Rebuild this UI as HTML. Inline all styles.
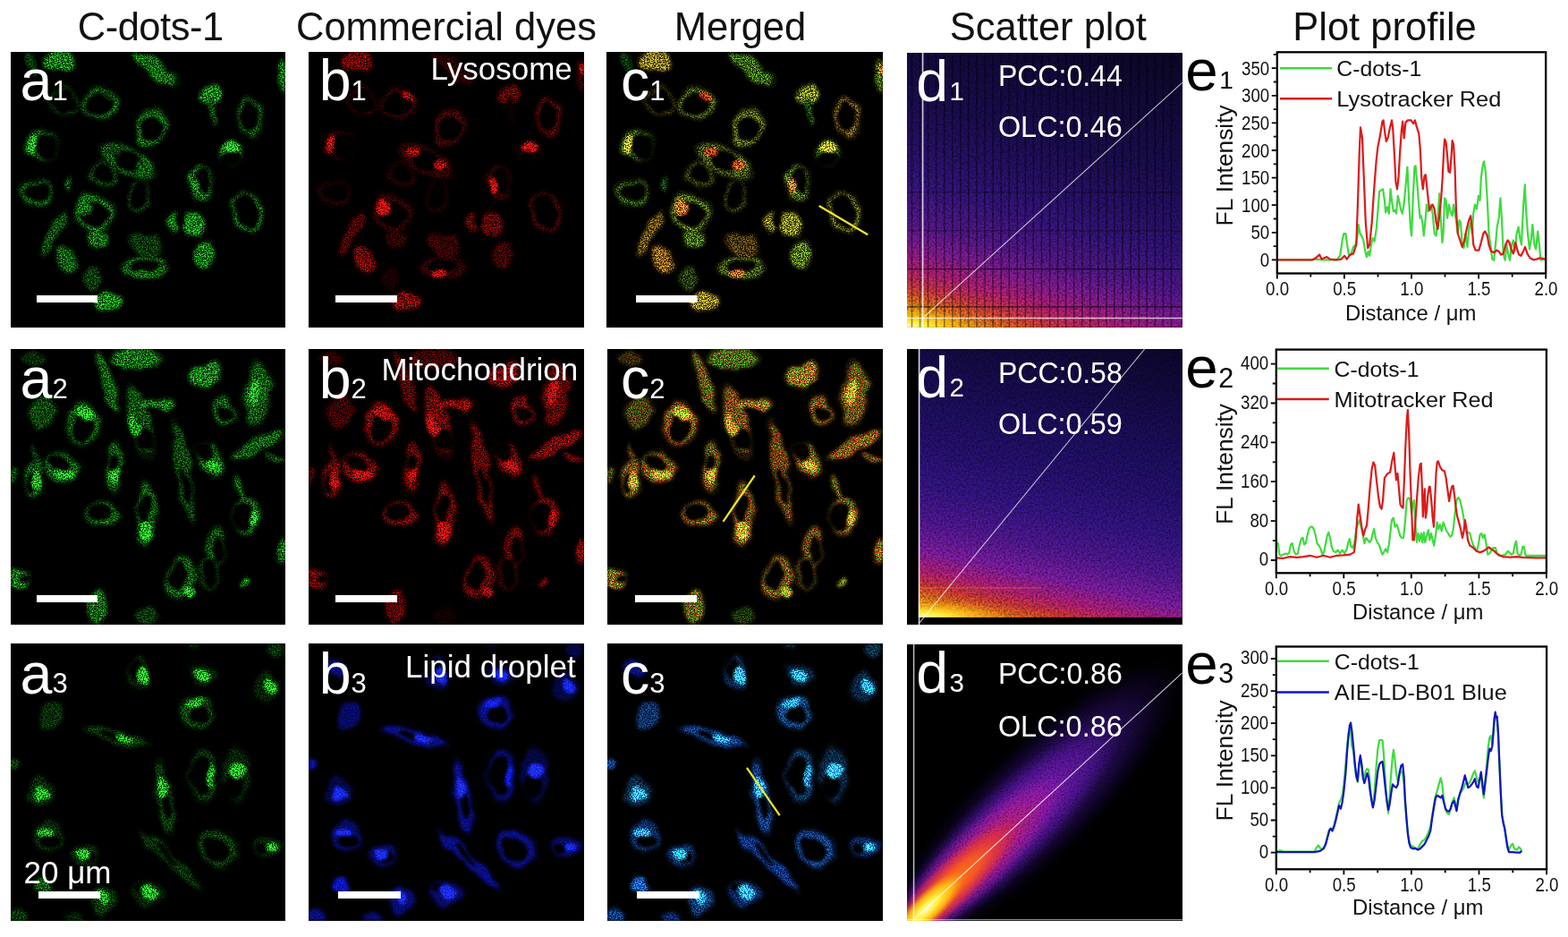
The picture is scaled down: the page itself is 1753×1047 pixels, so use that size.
<!DOCTYPE html>
<html lang="en"><head><meta charset="utf-8"><title>Colocalization figure</title>
<style>
html,body{margin:0;padding:0;background:#fff}
body{width:1753px;height:1047px;position:relative;overflow:hidden;font-family:"Liberation Sans",sans-serif;color:#000}
.hdr{position:absolute;top:0.8px;height:58px;line-height:58px;font-size:43.5px;white-space:nowrap;transform:translateX(-50%);color:#111}
.panel{position:absolute;background:#000;overflow:hidden}
.panel svg{position:absolute;left:0;top:0;width:100%;height:100%;display:block}
.lab{position:absolute;color:#fff;font-size:64.5px;line-height:1;white-space:nowrap}
.lab sub{font-size:31px;vertical-align:baseline;position:relative;top:-0.7px;margin-left:0px}
.tag{position:absolute;color:#fff;font-size:35px;line-height:1;white-space:nowrap;right:0;text-align:right}
.bar{position:absolute;background:#fff;height:8px;width:68px}
</style></head><body>
<div class="hdr" style="left:168.2px;font-size:43.5px;letter-spacing:-0.5px">C-dots-1</div>
<div class="hdr" style="left:499px;font-size:43.5px;letter-spacing:0px">Commercial dyes</div>
<div class="hdr" style="left:827.5px;font-size:43.5px;letter-spacing:0px">Merged</div>
<div class="hdr" style="left:1171.8px;font-size:43.5px;letter-spacing:0px">Scatter plot</div>
<div class="hdr" style="left:1548px;font-size:43.5px;letter-spacing:0px">Plot profile</div>
<div class="panel" style="left:12px;top:57.8px;width:307.3px;height:307.8px"><svg viewBox="0 0 1047 1047" preserveAspectRatio="none"><defs><filter id="fa1" x="0" y="0" width="1047" height="1047" filterUnits="userSpaceOnUse" color-interpolation-filters="sRGB"><feTurbulence type="fractalNoise" baseFrequency="0.013" numOctaves="2" seed="48" result="d"/><feDisplacementMap in="SourceGraphic" in2="d" scale="46" xChannelSelector="R" yChannelSelector="G" result="w"/><feGaussianBlur in="w" stdDeviation="5" result="b"/><feTurbulence type="fractalNoise" baseFrequency="0.21" numOctaves="2" seed="8" result="t"/><feColorMatrix in="t" type="matrix" values="3.6 0 0 0 -1.5  3.6 0 0 0 -1.5  3.6 0 0 0 -1.5  0 0 0 0 1" result="n"/><feComposite in="b" in2="n" operator="arithmetic" k1="2.0" k2="0.3" k3="0" k4="0"/></filter></defs><g id="La1" filter="url(#fa1)"><rect width="1047" height="1047" fill="#000"/><ellipse cx="190" cy="35" rx="65.6" ry="46.6" fill="#051e05"/><ellipse cx="75" cy="40" rx="20.8" ry="60" transform="rotate(-20 75 40)" fill="#020d02"/><ellipse cx="545" cy="60" rx="110.4" ry="37.6" transform="rotate(35 545 60)" fill="#041a04"/><ellipse cx="770" cy="165" rx="48.8" ry="43.2" fill="#062106"/><ellipse cx="770" cy="215" rx="20.8" ry="57.8" fill="#031303"/><ellipse cx="1030" cy="95" rx="20.8" ry="65.6" fill="#041a04"/><ellipse cx="205" cy="190" rx="65.6" ry="60" fill="#020d02"/><ellipse cx="340" cy="200" rx="80.2" ry="69" transform="rotate(-10 340 200)" fill="#041604"/><ellipse cx="540" cy="285" rx="60" ry="76.8" transform="rotate(15 540 285)" fill="#041804"/><ellipse cx="905" cy="250" rx="54.4" ry="80.2" transform="rotate(-5 905 250)" fill="#031403"/><ellipse cx="115" cy="355" rx="71.2" ry="65.6" fill="#041a04"/><ellipse cx="840" cy="385" rx="60" ry="57.8" fill="#041604"/><ellipse cx="445" cy="410" rx="127.2" ry="60" transform="rotate(25 445 410)" fill="#031403"/><ellipse cx="355" cy="470" rx="62.2" ry="54.4" transform="rotate(20 355 470)" fill="#031103"/><ellipse cx="725" cy="495" rx="54.4" ry="73.4" transform="rotate(-10 725 495)" fill="#041804"/><ellipse cx="95" cy="535" rx="73.4" ry="60" fill="#031403"/><ellipse cx="487" cy="545" rx="43.2" ry="69" fill="#031103"/><ellipse cx="222" cy="500" rx="13" ry="37.6" fill="#041604"/><ellipse cx="900" cy="610" rx="60" ry="88" transform="rotate(-15 900 610)" fill="#041804"/><ellipse cx="322" cy="612" rx="84.6" ry="80.2" fill="#041a04"/><ellipse cx="622" cy="650" rx="37.6" ry="43.2" fill="#051c05"/><ellipse cx="700" cy="655" rx="43.2" ry="54.4" fill="#051e05"/><ellipse cx="165" cy="685" rx="32" ry="104.8" transform="rotate(25 165 685)" fill="#031303"/><ellipse cx="330" cy="715" rx="46.6" ry="43.2" fill="#041a04"/><ellipse cx="515" cy="735" rx="76.8" ry="48.8" transform="rotate(30 515 735)" fill="#020d02"/><ellipse cx="737" cy="770" rx="46.6" ry="54.4" fill="#051e05"/><ellipse cx="212" cy="795" rx="48.8" ry="54.4" transform="rotate(-30 212 795)" fill="#041604"/><ellipse cx="510" cy="822" rx="91.4" ry="51" fill="#041604"/><ellipse cx="310" cy="860" rx="43.2" ry="48.8" fill="#020f02"/><ellipse cx="372" cy="950" rx="54.4" ry="43.2" fill="#062106"/><ellipse cx="190" cy="35" rx="55" ry="38" fill="#147714"/><ellipse cx="75" cy="40" rx="15" ry="50" transform="rotate(-20 75 40)" fill="#093409"/><ellipse cx="545" cy="60" rx="95" ry="30" transform="rotate(35 545 60)" fill="#116811"/><ellipse cx="770" cy="165" rx="40" ry="35" fill="#168516"/><ellipse cx="770" cy="215" rx="15" ry="48" fill="#0c4a0c"/><ellipse cx="1030" cy="95" rx="15" ry="55" fill="#116811"/><ellipse cx="205" cy="190" rx="55" ry="50" fill="#093409"/><ellipse cx="205" cy="190" rx="48" ry="43" fill="#000"/><ellipse cx="340" cy="200" rx="68" ry="58" transform="rotate(-10 340 200)" fill="#0f590f"/><ellipse cx="335" cy="200" rx="50.5" ry="43" transform="rotate(-10 335 200)" fill="#000"/><ellipse cx="372" cy="172" rx="22" ry="16" transform="rotate(40 372 172)" fill="#093509"/><ellipse cx="540" cy="285" rx="50" ry="65" transform="rotate(15 540 285)" fill="#106010"/><ellipse cx="540" cy="290" rx="34.2" ry="40.5" transform="rotate(15 540 290)" fill="#000"/><ellipse cx="905" cy="250" rx="45" ry="68" transform="rotate(-5 905 250)" fill="#0e520e"/><ellipse cx="905" cy="250" rx="34.2" ry="55.5" transform="rotate(-5 905 250)" fill="#000"/><ellipse cx="115" cy="355" rx="60" ry="55" fill="#116811"/><ellipse cx="135" cy="360" rx="43" ry="46.8" fill="#000"/><ellipse cx="92" cy="352" rx="18" ry="35" transform="rotate(10 92 352)" fill="#28ef28"/><ellipse cx="840" cy="385" rx="50" ry="48" fill="#0f590f"/><ellipse cx="838" cy="405" rx="46.8" ry="34.2" fill="#000"/><ellipse cx="842" cy="360" rx="38" ry="20" fill="#2cff2c"/><ellipse cx="445" cy="410" rx="110" ry="50" transform="rotate(25 445 410)" fill="#0e520e"/><ellipse cx="445" cy="410" rx="59.2" ry="38" transform="rotate(25 445 410)" fill="#000"/><ellipse cx="495" cy="432" rx="25" ry="20" fill="#0d500d"/><ellipse cx="395" cy="380" rx="22" ry="18" fill="#093509"/><ellipse cx="355" cy="470" rx="52" ry="45" transform="rotate(20 355 470)" fill="#0b430b"/><ellipse cx="352" cy="468" rx="40.5" ry="34.2" transform="rotate(20 352 468)" fill="#000"/><ellipse cx="725" cy="495" rx="45" ry="62" transform="rotate(-10 725 495)" fill="#106010"/><ellipse cx="735" cy="492" rx="30.5" ry="46.8" transform="rotate(-10 735 492)" fill="#000"/><ellipse cx="705" cy="512" rx="16" ry="28" fill="#168516"/><ellipse cx="95" cy="535" rx="62" ry="50" fill="#0e520e"/><ellipse cx="100" cy="530" rx="46.8" ry="34.2" fill="#000"/><ellipse cx="487" cy="545" rx="35" ry="58" fill="#0b430b"/><ellipse cx="487" cy="540" rx="28" ry="50.5" fill="#000"/><ellipse cx="222" cy="500" rx="8" ry="30" fill="#0f590f"/><ellipse cx="900" cy="610" rx="50" ry="75" transform="rotate(-15 900 610)" fill="#106010"/><ellipse cx="898" cy="605" rx="38" ry="63" transform="rotate(-15 898 605)" fill="#000"/><ellipse cx="322" cy="612" rx="72" ry="68" fill="#116811"/><ellipse cx="325" cy="615" rx="55.5" ry="53" fill="#000"/><ellipse cx="290" cy="592" rx="20" ry="30" transform="rotate(30 290 592)" fill="#126a12"/><ellipse cx="622" cy="650" rx="30" ry="35" fill="#136f13"/><ellipse cx="700" cy="655" rx="35" ry="45" fill="#147714"/><ellipse cx="655" cy="640" rx="18" ry="30" fill="#000"/><ellipse cx="165" cy="685" rx="25" ry="90" transform="rotate(25 165 685)" fill="#0c4a0c"/><ellipse cx="330" cy="715" rx="38" ry="35" fill="#116811"/><ellipse cx="515" cy="735" rx="65" ry="40" transform="rotate(30 515 735)" fill="#093409"/><ellipse cx="737" cy="770" rx="38" ry="45" fill="#147714"/><ellipse cx="212" cy="795" rx="40" ry="45" transform="rotate(-30 212 795)" fill="#0f590f"/><ellipse cx="510" cy="822" rx="78" ry="42" fill="#0f590f"/><ellipse cx="512" cy="815" rx="46.8" ry="25.5" fill="#000"/><ellipse cx="495" cy="842" rx="30" ry="15" transform="rotate(10 495 842)" fill="#126a12"/><ellipse cx="310" cy="860" rx="35" ry="40" fill="#0a3b0a"/><ellipse cx="372" cy="950" rx="45" ry="35" fill="#168516"/></g></svg><div class="bar" style="left:29px;top:272px;width:68.2px"></div><div class="lab" style="left:10.5px;top:0.7px">a<sub>1</sub></div></div>
<div class="panel" style="left:345.2px;top:57.8px;width:308.1px;height:307.8px"><svg viewBox="0 0 1047 1047" preserveAspectRatio="none"><defs><filter id="fb1" x="0" y="0" width="1047" height="1047" filterUnits="userSpaceOnUse" color-interpolation-filters="sRGB"><feTurbulence type="fractalNoise" baseFrequency="0.013" numOctaves="2" seed="48" result="d"/><feDisplacementMap in="SourceGraphic" in2="d" scale="46" xChannelSelector="R" yChannelSelector="G" result="w"/><feGaussianBlur in="w" stdDeviation="5" result="b"/><feTurbulence type="fractalNoise" baseFrequency="0.21" numOctaves="2" seed="11" result="t"/><feColorMatrix in="t" type="matrix" values="3.6 0 0 0 -1.5  3.6 0 0 0 -1.5  3.6 0 0 0 -1.5  0 0 0 0 1" result="n"/><feComposite in="b" in2="n" operator="arithmetic" k1="2.0" k2="0.3" k3="0" k4="0"/></filter></defs><g id="Lb1" filter="url(#fb1)"><rect width="1047" height="1047" fill="#000"/><ellipse cx="190" cy="35" rx="65.6" ry="46.6" fill="#190202"/><ellipse cx="545" cy="60" rx="110.4" ry="37.6" transform="rotate(35 545 60)" fill="#090101"/><ellipse cx="770" cy="165" rx="48.8" ry="43.2" fill="#160101"/><ellipse cx="770" cy="215" rx="20.8" ry="57.8" fill="#040000"/><ellipse cx="1030" cy="95" rx="20.8" ry="65.6" fill="#0b0101"/><ellipse cx="205" cy="190" rx="65.6" ry="60" fill="#0b0101"/><ellipse cx="340" cy="200" rx="80.2" ry="69" transform="rotate(-10 340 200)" fill="#0b0101"/><ellipse cx="540" cy="285" rx="60" ry="76.8" transform="rotate(15 540 285)" fill="#0e0101"/><ellipse cx="905" cy="250" rx="54.4" ry="80.2" transform="rotate(-5 905 250)" fill="#140101"/><ellipse cx="115" cy="355" rx="71.2" ry="65.6" fill="#090101"/><ellipse cx="840" cy="385" rx="60" ry="57.8" fill="#070000"/><ellipse cx="445" cy="410" rx="127.2" ry="60" transform="rotate(25 445 410)" fill="#0b0101"/><ellipse cx="355" cy="470" rx="62.2" ry="54.4" transform="rotate(20 355 470)" fill="#090101"/><ellipse cx="725" cy="495" rx="54.4" ry="73.4" transform="rotate(-10 725 495)" fill="#0b0101"/><ellipse cx="95" cy="535" rx="73.4" ry="60" fill="#070000"/><ellipse cx="487" cy="545" rx="43.2" ry="69" fill="#090101"/><ellipse cx="900" cy="610" rx="60" ry="88" transform="rotate(-15 900 610)" fill="#100101"/><ellipse cx="322" cy="612" rx="84.6" ry="80.2" fill="#0d0101"/><ellipse cx="622" cy="650" rx="37.6" ry="43.2" fill="#160101"/><ellipse cx="700" cy="655" rx="43.2" ry="54.4" fill="#160101"/><ellipse cx="165" cy="685" rx="32" ry="104.8" transform="rotate(25 165 685)" fill="#120101"/><ellipse cx="330" cy="715" rx="46.6" ry="43.2" fill="#0b0101"/><ellipse cx="515" cy="735" rx="76.8" ry="48.8" transform="rotate(30 515 735)" fill="#0d0101"/><ellipse cx="737" cy="770" rx="46.6" ry="54.4" fill="#0e0101"/><ellipse cx="212" cy="795" rx="48.8" ry="54.4" transform="rotate(-30 212 795)" fill="#190202"/><ellipse cx="510" cy="822" rx="91.4" ry="51" fill="#0b0101"/><ellipse cx="310" cy="860" rx="43.2" ry="48.8" fill="#050000"/><ellipse cx="372" cy="950" rx="54.4" ry="43.2" fill="#1d0202"/><ellipse cx="190" cy="35" rx="55" ry="38" fill="#650606"/><ellipse cx="545" cy="60" rx="95" ry="30" transform="rotate(35 545 60)" fill="#240202"/><ellipse cx="770" cy="165" rx="40" ry="35" fill="#560505"/><ellipse cx="770" cy="215" rx="15" ry="48" fill="#0e0101"/><ellipse cx="1030" cy="95" rx="15" ry="55" fill="#2b0303"/><ellipse cx="1035" cy="70" rx="10" ry="18" fill="#f50f0f"/><ellipse cx="205" cy="190" rx="55" ry="50" fill="#2b0303"/><ellipse cx="205" cy="190" rx="48" ry="43" fill="#000"/><ellipse cx="340" cy="200" rx="68" ry="58" transform="rotate(-10 340 200)" fill="#2b0303"/><ellipse cx="335" cy="200" rx="50.5" ry="43" transform="rotate(-10 335 200)" fill="#000"/><ellipse cx="372" cy="172" rx="22" ry="16" transform="rotate(40 372 172)" fill="#b80b0b"/><ellipse cx="540" cy="285" rx="50" ry="65" transform="rotate(15 540 285)" fill="#3a0404"/><ellipse cx="540" cy="290" rx="34.2" ry="40.5" transform="rotate(15 540 290)" fill="#000"/><ellipse cx="905" cy="250" rx="45" ry="68" transform="rotate(-5 905 250)" fill="#4f0505"/><ellipse cx="905" cy="250" rx="34.2" ry="55.5" transform="rotate(-5 905 250)" fill="#000"/><ellipse cx="115" cy="355" rx="60" ry="55" fill="#240202"/><ellipse cx="135" cy="360" rx="43" ry="46.8" fill="#000"/><ellipse cx="92" cy="352" rx="18" ry="35" transform="rotate(10 92 352)" fill="#ff1212"/><ellipse cx="840" cy="385" rx="50" ry="48" fill="#1d0202"/><ellipse cx="838" cy="405" rx="46.8" ry="34.2" fill="#000"/><ellipse cx="842" cy="360" rx="38" ry="20" fill="#ff1313"/><ellipse cx="445" cy="410" rx="110" ry="50" transform="rotate(25 445 410)" fill="#2b0303"/><ellipse cx="445" cy="410" rx="59.2" ry="38" transform="rotate(25 445 410)" fill="#000"/><ellipse cx="495" cy="432" rx="25" ry="20" fill="#d60d0d"/><ellipse cx="395" cy="380" rx="22" ry="18" fill="#b80b0b"/><ellipse cx="355" cy="470" rx="52" ry="45" transform="rotate(20 355 470)" fill="#240202"/><ellipse cx="352" cy="468" rx="40.5" ry="34.2" transform="rotate(20 352 468)" fill="#000"/><ellipse cx="725" cy="495" rx="45" ry="62" transform="rotate(-10 725 495)" fill="#2b0303"/><ellipse cx="735" cy="492" rx="30.5" ry="46.8" transform="rotate(-10 735 492)" fill="#000"/><ellipse cx="705" cy="512" rx="16" ry="28" fill="#ff1111"/><ellipse cx="95" cy="535" rx="62" ry="50" fill="#1d0202"/><ellipse cx="100" cy="530" rx="46.8" ry="34.2" fill="#000"/><ellipse cx="487" cy="545" rx="35" ry="58" fill="#240202"/><ellipse cx="487" cy="540" rx="28" ry="50.5" fill="#000"/><ellipse cx="900" cy="610" rx="50" ry="75" transform="rotate(-15 900 610)" fill="#410404"/><ellipse cx="898" cy="605" rx="38" ry="63" transform="rotate(-15 898 605)" fill="#000"/><ellipse cx="322" cy="612" rx="72" ry="68" fill="#320303"/><ellipse cx="325" cy="615" rx="55.5" ry="53" fill="#000"/><ellipse cx="290" cy="592" rx="20" ry="30" transform="rotate(30 290 592)" fill="#ff1111"/><ellipse cx="622" cy="650" rx="30" ry="35" fill="#560505"/><ellipse cx="700" cy="655" rx="35" ry="45" fill="#560505"/><ellipse cx="655" cy="640" rx="18" ry="30" fill="#000"/><ellipse cx="165" cy="685" rx="25" ry="90" transform="rotate(25 165 685)" fill="#480404"/><ellipse cx="330" cy="715" rx="38" ry="35" fill="#2b0303"/><ellipse cx="515" cy="735" rx="65" ry="40" transform="rotate(30 515 735)" fill="#320303"/><ellipse cx="737" cy="770" rx="38" ry="45" fill="#3a0404"/><ellipse cx="212" cy="795" rx="40" ry="45" transform="rotate(-30 212 795)" fill="#650606"/><ellipse cx="510" cy="822" rx="78" ry="42" fill="#2b0303"/><ellipse cx="512" cy="815" rx="46.8" ry="25.5" fill="#000"/><ellipse cx="495" cy="842" rx="30" ry="15" transform="rotate(10 495 842)" fill="#ff1111"/><ellipse cx="310" cy="860" rx="35" ry="40" fill="#160101"/><ellipse cx="372" cy="950" rx="45" ry="35" fill="#730707"/></g></svg><div class="bar" style="left:30.3px;top:272px;width:68.2px"></div><div class="lab" style="left:11.5px;top:0.7px">b<sub>1</sub></div><div class="tag" style="right:13.5px;top:1.5px">Lysosome</div></div>
<div class="panel" style="left:678.3px;top:57.8px;width:309.1px;height:307.8px"><svg viewBox="0 0 1047 1047" preserveAspectRatio="none"><defs><filter id="fc1g" x="0" y="0" width="1047" height="1047" filterUnits="userSpaceOnUse" color-interpolation-filters="sRGB"><feTurbulence type="fractalNoise" baseFrequency="0.013" numOctaves="2" seed="48" result="d"/><feDisplacementMap in="SourceGraphic" in2="d" scale="46" xChannelSelector="R" yChannelSelector="G" result="w"/><feGaussianBlur in="w" stdDeviation="5" result="b"/><feTurbulence type="fractalNoise" baseFrequency="0.21" numOctaves="2" seed="8" result="t"/><feColorMatrix in="t" type="matrix" values="3.6 0 0 0 -1.5  3.6 0 0 0 -1.5  3.6 0 0 0 -1.5  0 0 0 0 1" result="n"/><feComposite in="b" in2="n" operator="arithmetic" k1="2.0" k2="0.3" k3="0" k4="0"/></filter><filter id="fc1r" x="0" y="0" width="1047" height="1047" filterUnits="userSpaceOnUse" color-interpolation-filters="sRGB"><feTurbulence type="fractalNoise" baseFrequency="0.013" numOctaves="2" seed="48" result="d"/><feDisplacementMap in="SourceGraphic" in2="d" scale="46" xChannelSelector="R" yChannelSelector="G" result="w"/><feGaussianBlur in="w" stdDeviation="5" result="b"/><feTurbulence type="fractalNoise" baseFrequency="0.21" numOctaves="2" seed="8" result="t"/><feColorMatrix in="t" type="matrix" values="3.6 0 0 0 -1.5  3.6 0 0 0 -1.5  3.6 0 0 0 -1.5  0 0 0 0 1" result="n"/><feComposite in="b" in2="n" operator="arithmetic" k1="2.0" k2="0.3" k3="0" k4="0"/></filter></defs><g filter="url(#fc1g)"><rect width="1047" height="1047" fill="#000"/><ellipse cx="190" cy="35" rx="65.6" ry="46.6" fill="#051e05"/><ellipse cx="75" cy="40" rx="20.8" ry="60" transform="rotate(-20 75 40)" fill="#020d02"/><ellipse cx="545" cy="60" rx="110.4" ry="37.6" transform="rotate(35 545 60)" fill="#041a04"/><ellipse cx="770" cy="165" rx="48.8" ry="43.2" fill="#062106"/><ellipse cx="770" cy="215" rx="20.8" ry="57.8" fill="#031303"/><ellipse cx="1030" cy="95" rx="20.8" ry="65.6" fill="#041a04"/><ellipse cx="205" cy="190" rx="65.6" ry="60" fill="#020d02"/><ellipse cx="340" cy="200" rx="80.2" ry="69" transform="rotate(-10 340 200)" fill="#041604"/><ellipse cx="540" cy="285" rx="60" ry="76.8" transform="rotate(15 540 285)" fill="#041804"/><ellipse cx="905" cy="250" rx="54.4" ry="80.2" transform="rotate(-5 905 250)" fill="#031403"/><ellipse cx="115" cy="355" rx="71.2" ry="65.6" fill="#041a04"/><ellipse cx="840" cy="385" rx="60" ry="57.8" fill="#041604"/><ellipse cx="445" cy="410" rx="127.2" ry="60" transform="rotate(25 445 410)" fill="#031403"/><ellipse cx="355" cy="470" rx="62.2" ry="54.4" transform="rotate(20 355 470)" fill="#031103"/><ellipse cx="725" cy="495" rx="54.4" ry="73.4" transform="rotate(-10 725 495)" fill="#041804"/><ellipse cx="95" cy="535" rx="73.4" ry="60" fill="#031403"/><ellipse cx="487" cy="545" rx="43.2" ry="69" fill="#031103"/><ellipse cx="222" cy="500" rx="13" ry="37.6" fill="#041604"/><ellipse cx="900" cy="610" rx="60" ry="88" transform="rotate(-15 900 610)" fill="#041804"/><ellipse cx="322" cy="612" rx="84.6" ry="80.2" fill="#041a04"/><ellipse cx="622" cy="650" rx="37.6" ry="43.2" fill="#051c05"/><ellipse cx="700" cy="655" rx="43.2" ry="54.4" fill="#051e05"/><ellipse cx="165" cy="685" rx="32" ry="104.8" transform="rotate(25 165 685)" fill="#031303"/><ellipse cx="330" cy="715" rx="46.6" ry="43.2" fill="#041a04"/><ellipse cx="515" cy="735" rx="76.8" ry="48.8" transform="rotate(30 515 735)" fill="#020d02"/><ellipse cx="737" cy="770" rx="46.6" ry="54.4" fill="#051e05"/><ellipse cx="212" cy="795" rx="48.8" ry="54.4" transform="rotate(-30 212 795)" fill="#041604"/><ellipse cx="510" cy="822" rx="91.4" ry="51" fill="#041604"/><ellipse cx="310" cy="860" rx="43.2" ry="48.8" fill="#020f02"/><ellipse cx="372" cy="950" rx="54.4" ry="43.2" fill="#062106"/><ellipse cx="190" cy="35" rx="55" ry="38" fill="#147714"/><ellipse cx="75" cy="40" rx="15" ry="50" transform="rotate(-20 75 40)" fill="#093409"/><ellipse cx="545" cy="60" rx="95" ry="30" transform="rotate(35 545 60)" fill="#116811"/><ellipse cx="770" cy="165" rx="40" ry="35" fill="#168516"/><ellipse cx="770" cy="215" rx="15" ry="48" fill="#0c4a0c"/><ellipse cx="1030" cy="95" rx="15" ry="55" fill="#116811"/><ellipse cx="205" cy="190" rx="55" ry="50" fill="#093409"/><ellipse cx="205" cy="190" rx="48" ry="43" fill="#000"/><ellipse cx="340" cy="200" rx="68" ry="58" transform="rotate(-10 340 200)" fill="#0f590f"/><ellipse cx="335" cy="200" rx="50.5" ry="43" transform="rotate(-10 335 200)" fill="#000"/><ellipse cx="372" cy="172" rx="22" ry="16" transform="rotate(40 372 172)" fill="#093509"/><ellipse cx="540" cy="285" rx="50" ry="65" transform="rotate(15 540 285)" fill="#106010"/><ellipse cx="540" cy="290" rx="34.2" ry="40.5" transform="rotate(15 540 290)" fill="#000"/><ellipse cx="905" cy="250" rx="45" ry="68" transform="rotate(-5 905 250)" fill="#0e520e"/><ellipse cx="905" cy="250" rx="34.2" ry="55.5" transform="rotate(-5 905 250)" fill="#000"/><ellipse cx="115" cy="355" rx="60" ry="55" fill="#116811"/><ellipse cx="135" cy="360" rx="43" ry="46.8" fill="#000"/><ellipse cx="92" cy="352" rx="18" ry="35" transform="rotate(10 92 352)" fill="#28ef28"/><ellipse cx="840" cy="385" rx="50" ry="48" fill="#0f590f"/><ellipse cx="838" cy="405" rx="46.8" ry="34.2" fill="#000"/><ellipse cx="842" cy="360" rx="38" ry="20" fill="#2cff2c"/><ellipse cx="445" cy="410" rx="110" ry="50" transform="rotate(25 445 410)" fill="#0e520e"/><ellipse cx="445" cy="410" rx="59.2" ry="38" transform="rotate(25 445 410)" fill="#000"/><ellipse cx="495" cy="432" rx="25" ry="20" fill="#0d500d"/><ellipse cx="395" cy="380" rx="22" ry="18" fill="#093509"/><ellipse cx="355" cy="470" rx="52" ry="45" transform="rotate(20 355 470)" fill="#0b430b"/><ellipse cx="352" cy="468" rx="40.5" ry="34.2" transform="rotate(20 352 468)" fill="#000"/><ellipse cx="725" cy="495" rx="45" ry="62" transform="rotate(-10 725 495)" fill="#106010"/><ellipse cx="735" cy="492" rx="30.5" ry="46.8" transform="rotate(-10 735 492)" fill="#000"/><ellipse cx="705" cy="512" rx="16" ry="28" fill="#168516"/><ellipse cx="95" cy="535" rx="62" ry="50" fill="#0e520e"/><ellipse cx="100" cy="530" rx="46.8" ry="34.2" fill="#000"/><ellipse cx="487" cy="545" rx="35" ry="58" fill="#0b430b"/><ellipse cx="487" cy="540" rx="28" ry="50.5" fill="#000"/><ellipse cx="222" cy="500" rx="8" ry="30" fill="#0f590f"/><ellipse cx="900" cy="610" rx="50" ry="75" transform="rotate(-15 900 610)" fill="#106010"/><ellipse cx="898" cy="605" rx="38" ry="63" transform="rotate(-15 898 605)" fill="#000"/><ellipse cx="322" cy="612" rx="72" ry="68" fill="#116811"/><ellipse cx="325" cy="615" rx="55.5" ry="53" fill="#000"/><ellipse cx="290" cy="592" rx="20" ry="30" transform="rotate(30 290 592)" fill="#126a12"/><ellipse cx="622" cy="650" rx="30" ry="35" fill="#136f13"/><ellipse cx="700" cy="655" rx="35" ry="45" fill="#147714"/><ellipse cx="655" cy="640" rx="18" ry="30" fill="#000"/><ellipse cx="165" cy="685" rx="25" ry="90" transform="rotate(25 165 685)" fill="#0c4a0c"/><ellipse cx="330" cy="715" rx="38" ry="35" fill="#116811"/><ellipse cx="515" cy="735" rx="65" ry="40" transform="rotate(30 515 735)" fill="#093409"/><ellipse cx="737" cy="770" rx="38" ry="45" fill="#147714"/><ellipse cx="212" cy="795" rx="40" ry="45" transform="rotate(-30 212 795)" fill="#0f590f"/><ellipse cx="510" cy="822" rx="78" ry="42" fill="#0f590f"/><ellipse cx="512" cy="815" rx="46.8" ry="25.5" fill="#000"/><ellipse cx="495" cy="842" rx="30" ry="15" transform="rotate(10 495 842)" fill="#126a12"/><ellipse cx="310" cy="860" rx="35" ry="40" fill="#0a3b0a"/><ellipse cx="372" cy="950" rx="45" ry="35" fill="#168516"/></g><g filter="url(#fc1r)" style="mix-blend-mode:screen"><rect width="1047" height="1047" fill="#000"/><ellipse cx="190" cy="35" rx="65.6" ry="46.6" fill="#210202"/><ellipse cx="545" cy="60" rx="110.4" ry="37.6" transform="rotate(35 545 60)" fill="#0c0101"/><ellipse cx="770" cy="165" rx="48.8" ry="43.2" fill="#1c0202"/><ellipse cx="770" cy="215" rx="20.8" ry="57.8" fill="#050000"/><ellipse cx="1030" cy="95" rx="20.8" ry="65.6" fill="#0e0101"/><ellipse cx="205" cy="190" rx="65.6" ry="60" fill="#0e0101"/><ellipse cx="340" cy="200" rx="80.2" ry="69" transform="rotate(-10 340 200)" fill="#0e0101"/><ellipse cx="540" cy="285" rx="60" ry="76.8" transform="rotate(15 540 285)" fill="#130101"/><ellipse cx="905" cy="250" rx="54.4" ry="80.2" transform="rotate(-5 905 250)" fill="#1a0202"/><ellipse cx="115" cy="355" rx="71.2" ry="65.6" fill="#0c0101"/><ellipse cx="840" cy="385" rx="60" ry="57.8" fill="#090101"/><ellipse cx="445" cy="410" rx="127.2" ry="60" transform="rotate(25 445 410)" fill="#0e0101"/><ellipse cx="355" cy="470" rx="62.2" ry="54.4" transform="rotate(20 355 470)" fill="#0c0101"/><ellipse cx="725" cy="495" rx="54.4" ry="73.4" transform="rotate(-10 725 495)" fill="#0e0101"/><ellipse cx="95" cy="535" rx="73.4" ry="60" fill="#090101"/><ellipse cx="487" cy="545" rx="43.2" ry="69" fill="#0c0101"/><ellipse cx="900" cy="610" rx="60" ry="88" transform="rotate(-15 900 610)" fill="#150101"/><ellipse cx="322" cy="612" rx="84.6" ry="80.2" fill="#100101"/><ellipse cx="622" cy="650" rx="37.6" ry="43.2" fill="#1c0202"/><ellipse cx="700" cy="655" rx="43.2" ry="54.4" fill="#1c0202"/><ellipse cx="165" cy="685" rx="32" ry="104.8" transform="rotate(25 165 685)" fill="#170101"/><ellipse cx="330" cy="715" rx="46.6" ry="43.2" fill="#0e0101"/><ellipse cx="515" cy="735" rx="76.8" ry="48.8" transform="rotate(30 515 735)" fill="#100101"/><ellipse cx="737" cy="770" rx="46.6" ry="54.4" fill="#130101"/><ellipse cx="212" cy="795" rx="48.8" ry="54.4" transform="rotate(-30 212 795)" fill="#210202"/><ellipse cx="510" cy="822" rx="91.4" ry="51" fill="#0e0101"/><ellipse cx="310" cy="860" rx="43.2" ry="48.8" fill="#070000"/><ellipse cx="372" cy="950" rx="54.4" ry="43.2" fill="#250202"/><ellipse cx="190" cy="35" rx="55" ry="38" fill="#830808"/><ellipse cx="545" cy="60" rx="95" ry="30" transform="rotate(35 545 60)" fill="#2f0303"/><ellipse cx="770" cy="165" rx="40" ry="35" fill="#700707"/><ellipse cx="770" cy="215" rx="15" ry="48" fill="#130101"/><ellipse cx="1030" cy="95" rx="15" ry="55" fill="#380303"/><ellipse cx="1035" cy="70" rx="10" ry="18" fill="#ff1313"/><ellipse cx="205" cy="190" rx="55" ry="50" fill="#380303"/><ellipse cx="205" cy="190" rx="48" ry="43" fill="#000"/><ellipse cx="340" cy="200" rx="68" ry="58" transform="rotate(-10 340 200)" fill="#380303"/><ellipse cx="335" cy="200" rx="50.5" ry="43" transform="rotate(-10 335 200)" fill="#000"/><ellipse cx="372" cy="172" rx="22" ry="16" transform="rotate(40 372 172)" fill="#ef0f0f"/><ellipse cx="540" cy="285" rx="50" ry="65" transform="rotate(15 540 285)" fill="#4b0505"/><ellipse cx="540" cy="290" rx="34.2" ry="40.5" transform="rotate(15 540 290)" fill="#000"/><ellipse cx="905" cy="250" rx="45" ry="68" transform="rotate(-5 905 250)" fill="#670606"/><ellipse cx="905" cy="250" rx="34.2" ry="55.5" transform="rotate(-5 905 250)" fill="#000"/><ellipse cx="115" cy="355" rx="60" ry="55" fill="#2f0303"/><ellipse cx="135" cy="360" rx="43" ry="46.8" fill="#000"/><ellipse cx="92" cy="352" rx="18" ry="35" transform="rotate(10 92 352)" fill="#ff1717"/><ellipse cx="840" cy="385" rx="50" ry="48" fill="#250202"/><ellipse cx="838" cy="405" rx="46.8" ry="34.2" fill="#000"/><ellipse cx="842" cy="360" rx="38" ry="20" fill="#ff1818"/><ellipse cx="445" cy="410" rx="110" ry="50" transform="rotate(25 445 410)" fill="#380303"/><ellipse cx="445" cy="410" rx="59.2" ry="38" transform="rotate(25 445 410)" fill="#000"/><ellipse cx="495" cy="432" rx="25" ry="20" fill="#ff1111"/><ellipse cx="395" cy="380" rx="22" ry="18" fill="#ef0f0f"/><ellipse cx="355" cy="470" rx="52" ry="45" transform="rotate(20 355 470)" fill="#2f0303"/><ellipse cx="352" cy="468" rx="40.5" ry="34.2" transform="rotate(20 352 468)" fill="#000"/><ellipse cx="725" cy="495" rx="45" ry="62" transform="rotate(-10 725 495)" fill="#380303"/><ellipse cx="735" cy="492" rx="30.5" ry="46.8" transform="rotate(-10 735 492)" fill="#000"/><ellipse cx="705" cy="512" rx="16" ry="28" fill="#ff1616"/><ellipse cx="95" cy="535" rx="62" ry="50" fill="#250202"/><ellipse cx="100" cy="530" rx="46.8" ry="34.2" fill="#000"/><ellipse cx="487" cy="545" rx="35" ry="58" fill="#2f0303"/><ellipse cx="487" cy="540" rx="28" ry="50.5" fill="#000"/><ellipse cx="900" cy="610" rx="50" ry="75" transform="rotate(-15 900 610)" fill="#540505"/><ellipse cx="898" cy="605" rx="38" ry="63" transform="rotate(-15 898 605)" fill="#000"/><ellipse cx="322" cy="612" rx="72" ry="68" fill="#420404"/><ellipse cx="325" cy="615" rx="55.5" ry="53" fill="#000"/><ellipse cx="290" cy="592" rx="20" ry="30" transform="rotate(30 290 592)" fill="#ff1616"/><ellipse cx="622" cy="650" rx="30" ry="35" fill="#700707"/><ellipse cx="700" cy="655" rx="35" ry="45" fill="#700707"/><ellipse cx="655" cy="640" rx="18" ry="30" fill="#000"/><ellipse cx="165" cy="685" rx="25" ry="90" transform="rotate(25 165 685)" fill="#5e0606"/><ellipse cx="330" cy="715" rx="38" ry="35" fill="#380303"/><ellipse cx="515" cy="735" rx="65" ry="40" transform="rotate(30 515 735)" fill="#420404"/><ellipse cx="737" cy="770" rx="38" ry="45" fill="#4b0505"/><ellipse cx="212" cy="795" rx="40" ry="45" transform="rotate(-30 212 795)" fill="#830808"/><ellipse cx="510" cy="822" rx="78" ry="42" fill="#380303"/><ellipse cx="512" cy="815" rx="46.8" ry="25.5" fill="#000"/><ellipse cx="495" cy="842" rx="30" ry="15" transform="rotate(10 495 842)" fill="#ff1616"/><ellipse cx="310" cy="860" rx="35" ry="40" fill="#1c0202"/><ellipse cx="372" cy="950" rx="45" ry="35" fill="#960909"/></g><path d="M805 585L990 695" stroke="#f0e628" stroke-width="7.6" fill="none"/></svg><div class="bar" style="left:33px;top:272px;width:68.2px"></div><div class="lab" style="left:15.8px;top:0.7px">c<sub>1</sub></div></div>
<div class="panel" style="left:12px;top:390.2px;width:307.3px;height:308.2px"><svg viewBox="0 0 1047 1047" preserveAspectRatio="none"><defs><filter id="fa2" x="0" y="0" width="1047" height="1047" filterUnits="userSpaceOnUse" color-interpolation-filters="sRGB"><feTurbulence type="fractalNoise" baseFrequency="0.013" numOctaves="2" seed="55" result="d"/><feDisplacementMap in="SourceGraphic" in2="d" scale="46" xChannelSelector="R" yChannelSelector="G" result="w"/><feGaussianBlur in="w" stdDeviation="5" result="b"/><feTurbulence type="fractalNoise" baseFrequency="0.21" numOctaves="2" seed="15" result="t"/><feColorMatrix in="t" type="matrix" values="3.6 0 0 0 -1.5  3.6 0 0 0 -1.5  3.6 0 0 0 -1.5  0 0 0 0 1" result="n"/><feComposite in="b" in2="n" operator="arithmetic" k1="2.0" k2="0.3" k3="0" k4="0"/></filter></defs><g id="La2" filter="url(#fa2)"><rect width="1047" height="1047" fill="#000"/><ellipse cx="90" cy="30" rx="54.4" ry="32" fill="#020b02"/><ellipse cx="480" cy="35" rx="110.4" ry="46.6" fill="#041a04"/><ellipse cx="365" cy="120" rx="28.6" ry="132.8" transform="rotate(-18 365 120)" fill="#041604"/><ellipse cx="740" cy="100" rx="73.4" ry="51" transform="rotate(-10 740 100)" fill="#051e05"/><ellipse cx="940" cy="170" rx="60" ry="127.2" transform="rotate(5 940 170)" fill="#031403"/><ellipse cx="810" cy="235" rx="46.6" ry="62.2" fill="#031403"/><ellipse cx="120" cy="240" rx="54.4" ry="65.6" transform="rotate(30 120 240)" fill="#031103"/><ellipse cx="275" cy="285" rx="71.2" ry="84.6" fill="#031403"/><ellipse cx="490" cy="270" rx="51" ry="155.2" transform="rotate(-15 490 270)" fill="#031303"/><ellipse cx="560" cy="212" rx="65.6" ry="32" fill="#051c05"/><ellipse cx="945" cy="365" rx="121.6" ry="32" transform="rotate(-28 945 365)" fill="#041604"/><ellipse cx="1010" cy="415" rx="48.8" ry="17.4" transform="rotate(20 1010 415)" fill="#031303"/><ellipse cx="760" cy="420" rx="60" ry="73.4" transform="rotate(-30 760 420)" fill="#041604"/><ellipse cx="660" cy="470" rx="33.1" ry="216.8" transform="rotate(-10 660 470)" fill="#031103"/><ellipse cx="395" cy="450" rx="42.1" ry="104.8" fill="#031403"/><ellipse cx="195" cy="445" rx="73.4" ry="60" transform="rotate(20 195 445)" fill="#031403"/><ellipse cx="92" cy="500" rx="48.8" ry="84.6" fill="#031403"/><ellipse cx="85" cy="400" rx="10.7" ry="60" fill="#020f02"/><ellipse cx="8" cy="480" rx="17.4" ry="32" fill="#031303"/><ellipse cx="345" cy="625" rx="66.7" ry="54.4" fill="#041604"/><ellipse cx="515" cy="630" rx="42.1" ry="129.4" fill="#031403"/><ellipse cx="900" cy="630" rx="65.6" ry="77.9" fill="#041604"/><ellipse cx="865" cy="530" rx="15.2" ry="54.4" transform="rotate(-10 865 530)" fill="#041604"/><ellipse cx="780" cy="760" rx="43.2" ry="95.8" transform="rotate(5 780 760)" fill="#031303"/><ellipse cx="650" cy="870" rx="60" ry="93.6" transform="rotate(15 650 870)" fill="#031403"/><ellipse cx="755" cy="850" rx="48.8" ry="71.2" fill="#031103"/><ellipse cx="1032" cy="770" rx="26.4" ry="51" fill="#041a04"/><ellipse cx="890" cy="880" rx="17.4" ry="26.4" fill="#051e05"/><ellipse cx="30" cy="870" rx="51" ry="44.3" fill="#051c05"/><ellipse cx="330" cy="980" rx="43.2" ry="65.6" transform="rotate(10 330 980)" fill="#041804"/><ellipse cx="515" cy="1012" rx="48.8" ry="37.6" fill="#020d02"/><ellipse cx="90" cy="30" rx="45" ry="25" fill="#072c07"/><ellipse cx="480" cy="35" rx="95" ry="38" fill="#116811"/><ellipse cx="365" cy="120" rx="22" ry="115" transform="rotate(-18 365 120)" fill="#0f590f"/><ellipse cx="740" cy="100" rx="62" ry="42" transform="rotate(-10 740 100)" fill="#147714"/><ellipse cx="790" cy="140" rx="20" ry="14" fill="#000"/><ellipse cx="940" cy="170" rx="50" ry="110" transform="rotate(5 940 170)" fill="#0e520e"/><ellipse cx="930" cy="165" rx="22" ry="45" fill="#23d423"/><ellipse cx="810" cy="235" rx="38" ry="52" fill="#0e520e"/><ellipse cx="815" cy="240" rx="25.5" ry="30.5" fill="#000"/><ellipse cx="120" cy="240" rx="45" ry="55" transform="rotate(30 120 240)" fill="#0b430b"/><ellipse cx="275" cy="285" rx="60" ry="72" fill="#0e520e"/><ellipse cx="275" cy="305" rx="40.5" ry="43" fill="#000"/><ellipse cx="282" cy="250" rx="30" ry="22" fill="#28ef28"/><ellipse cx="490" cy="270" rx="42" ry="135" transform="rotate(-15 490 270)" fill="#0c4a0c"/><ellipse cx="512" cy="345" rx="33" ry="48" transform="rotate(-15 512 345)" fill="#000"/><ellipse cx="470" cy="290" rx="20" ry="40" transform="rotate(-15 470 290)" fill="#1fba1f"/><ellipse cx="560" cy="212" rx="55" ry="25" fill="#136f13"/><ellipse cx="565" cy="235" rx="38" ry="15.5" fill="#000"/><ellipse cx="945" cy="365" rx="105" ry="25" transform="rotate(-28 945 365)" fill="#0f590f"/><ellipse cx="1010" cy="415" rx="40" ry="12" transform="rotate(20 1010 415)" fill="#0c4a0c"/><ellipse cx="760" cy="420" rx="50" ry="62" transform="rotate(-30 760 420)" fill="#0f590f"/><ellipse cx="738" cy="392" rx="30.5" ry="34.2" transform="rotate(-30 738 392)" fill="#000"/><ellipse cx="772" cy="442" rx="25" ry="18" transform="rotate(30 772 442)" fill="#28ef28"/><ellipse cx="660" cy="470" rx="26" ry="190" transform="rotate(-10 660 470)" fill="#0b430b"/><ellipse cx="672" cy="520" rx="16.8" ry="65.5" transform="rotate(-10 672 520)" fill="#000"/><ellipse cx="395" cy="450" rx="34" ry="90" fill="#0e520e"/><ellipse cx="390" cy="428" rx="24.2" ry="33" fill="#000"/><ellipse cx="400" cy="482" rx="20" ry="22" fill="#28ef28"/><ellipse cx="195" cy="445" rx="62" ry="50" transform="rotate(20 195 445)" fill="#0e520e"/><ellipse cx="185" cy="435" rx="43" ry="30.5" transform="rotate(20 185 435)" fill="#000"/><ellipse cx="200" cy="468" rx="35" ry="15" transform="rotate(10 200 468)" fill="#28ef28"/><ellipse cx="92" cy="500" rx="40" ry="72" fill="#0e520e"/><ellipse cx="78" cy="510" rx="20.5" ry="40.5" fill="#000"/><ellipse cx="108" cy="505" rx="18" ry="35" fill="#28ef28"/><ellipse cx="85" cy="400" rx="6" ry="50" fill="#0a3b0a"/><ellipse cx="8" cy="480" rx="12" ry="25" fill="#0c4a0c"/><ellipse cx="345" cy="625" rx="56" ry="45" fill="#0f590f"/><ellipse cx="340" cy="620" rx="44.2" ry="34.2" fill="#000"/><ellipse cx="515" cy="630" rx="34" ry="112" fill="#0e520e"/><ellipse cx="510" cy="608" rx="21.8" ry="55.5" fill="#000"/><ellipse cx="518" cy="692" rx="18" ry="30" fill="#28ef28"/><ellipse cx="900" cy="630" rx="55" ry="66" fill="#0f590f"/><ellipse cx="885" cy="635" rx="40.5" ry="46.8" fill="#000"/><ellipse cx="928" cy="642" rx="16" ry="28" fill="#2afc2a"/><ellipse cx="865" cy="530" rx="10" ry="45" transform="rotate(-10 865 530)" fill="#0f590f"/><ellipse cx="780" cy="760" rx="35" ry="82" transform="rotate(5 780 760)" fill="#0c4a0c"/><ellipse cx="790" cy="770" rx="21.8" ry="48" transform="rotate(5 790 770)" fill="#000"/><ellipse cx="650" cy="870" rx="50" ry="80" transform="rotate(15 650 870)" fill="#0e520e"/><ellipse cx="640" cy="860" rx="30.5" ry="53" transform="rotate(15 640 860)" fill="#000"/><ellipse cx="682" cy="925" rx="20" ry="22" fill="#28ef28"/><ellipse cx="755" cy="850" rx="40" ry="60" fill="#0b430b"/><ellipse cx="755" cy="850" rx="33" ry="53" fill="#000"/><ellipse cx="1032" cy="770" rx="20" ry="42" fill="#116811"/><ellipse cx="890" cy="880" rx="12" ry="20" fill="#147714"/><ellipse cx="30" cy="870" rx="42" ry="36" fill="#136f13"/><ellipse cx="55" cy="870" rx="18" ry="18" fill="#000"/><ellipse cx="330" cy="980" rx="35" ry="55" transform="rotate(10 330 980)" fill="#106010"/><ellipse cx="515" cy="1012" rx="40" ry="30" fill="#093409"/></g></svg><div class="bar" style="left:29px;top:275px;width:68.2px"></div><div class="lab" style="left:10.5px;top:1px">a<sub>2</sub></div></div>
<div class="panel" style="left:345.2px;top:390.2px;width:308.1px;height:308.2px"><svg viewBox="0 0 1047 1047" preserveAspectRatio="none"><defs><filter id="fb2" x="0" y="0" width="1047" height="1047" filterUnits="userSpaceOnUse" color-interpolation-filters="sRGB"><feTurbulence type="fractalNoise" baseFrequency="0.013" numOctaves="2" seed="55" result="d"/><feDisplacementMap in="SourceGraphic" in2="d" scale="46" xChannelSelector="R" yChannelSelector="G" result="w"/><feGaussianBlur in="w" stdDeviation="5" result="b"/><feTurbulence type="fractalNoise" baseFrequency="0.21" numOctaves="2" seed="18" result="t"/><feColorMatrix in="t" type="matrix" values="3.6 0 0 0 -1.5  3.6 0 0 0 -1.5  3.6 0 0 0 -1.5  0 0 0 0 1" result="n"/><feComposite in="b" in2="n" operator="arithmetic" k1="2.0" k2="0.3" k3="0" k4="0"/></filter></defs><g id="Lb2" filter="url(#fb2)"><rect width="1047" height="1047" fill="#000"/><ellipse cx="90" cy="30" rx="54.4" ry="32" fill="#0a0101"/><ellipse cx="480" cy="35" rx="110.4" ry="46.6" fill="#0e0101"/><ellipse cx="365" cy="120" rx="28.6" ry="132.8" transform="rotate(-18 365 120)" fill="#140101"/><ellipse cx="740" cy="100" rx="73.4" ry="51" transform="rotate(-10 740 100)" fill="#1c0202"/><ellipse cx="940" cy="170" rx="60" ry="127.2" transform="rotate(5 940 170)" fill="#160101"/><ellipse cx="810" cy="235" rx="46.6" ry="62.2" fill="#180101"/><ellipse cx="120" cy="240" rx="54.4" ry="65.6" transform="rotate(30 120 240)" fill="#0e0101"/><ellipse cx="275" cy="285" rx="71.2" ry="84.6" fill="#1c0202"/><ellipse cx="490" cy="270" rx="51" ry="155.2" transform="rotate(-15 490 270)" fill="#180101"/><ellipse cx="560" cy="212" rx="65.6" ry="32" fill="#200202"/><ellipse cx="945" cy="365" rx="121.6" ry="32" transform="rotate(-28 945 365)" fill="#1c0202"/><ellipse cx="1010" cy="415" rx="48.8" ry="17.4" transform="rotate(20 1010 415)" fill="#180101"/><ellipse cx="760" cy="420" rx="60" ry="73.4" transform="rotate(-30 760 420)" fill="#180101"/><ellipse cx="660" cy="470" rx="33.1" ry="216.8" transform="rotate(-10 660 470)" fill="#160101"/><ellipse cx="395" cy="450" rx="42.1" ry="104.8" fill="#160101"/><ellipse cx="195" cy="445" rx="73.4" ry="60" transform="rotate(20 195 445)" fill="#180101"/><ellipse cx="92" cy="500" rx="48.8" ry="84.6" fill="#180101"/><ellipse cx="85" cy="400" rx="10.7" ry="60" fill="#140101"/><ellipse cx="8" cy="480" rx="17.4" ry="32" fill="#100101"/><ellipse cx="345" cy="625" rx="66.7" ry="54.4" fill="#1a0202"/><ellipse cx="515" cy="630" rx="42.1" ry="129.4" fill="#180101"/><ellipse cx="900" cy="630" rx="65.6" ry="77.9" fill="#180101"/><ellipse cx="865" cy="530" rx="15.2" ry="54.4" transform="rotate(-10 865 530)" fill="#140101"/><ellipse cx="780" cy="760" rx="43.2" ry="95.8" transform="rotate(5 780 760)" fill="#160101"/><ellipse cx="650" cy="870" rx="60" ry="93.6" transform="rotate(15 650 870)" fill="#160101"/><ellipse cx="755" cy="850" rx="48.8" ry="71.2" fill="#120101"/><ellipse cx="1032" cy="770" rx="26.4" ry="51" fill="#1c0202"/><ellipse cx="890" cy="880" rx="17.4" ry="26.4" fill="#180101"/><ellipse cx="30" cy="870" rx="51" ry="44.3" fill="#180101"/><ellipse cx="330" cy="980" rx="43.2" ry="65.6" transform="rotate(10 330 980)" fill="#140101"/><ellipse cx="515" cy="1012" rx="48.8" ry="37.6" fill="#040000"/><ellipse cx="90" cy="30" rx="45" ry="25" fill="#290202"/><ellipse cx="480" cy="35" rx="95" ry="38" fill="#390303"/><ellipse cx="365" cy="120" rx="22" ry="115" transform="rotate(-18 365 120)" fill="#510505"/><ellipse cx="740" cy="100" rx="62" ry="42" transform="rotate(-10 740 100)" fill="#710707"/><ellipse cx="790" cy="140" rx="20" ry="14" fill="#000"/><ellipse cx="940" cy="170" rx="50" ry="110" transform="rotate(5 940 170)" fill="#590505"/><ellipse cx="930" cy="165" rx="22" ry="45" fill="#d60d0d"/><ellipse cx="810" cy="235" rx="38" ry="52" fill="#610606"/><ellipse cx="815" cy="240" rx="25.5" ry="30.5" fill="#000"/><ellipse cx="120" cy="240" rx="45" ry="55" transform="rotate(30 120 240)" fill="#390303"/><ellipse cx="275" cy="285" rx="60" ry="72" fill="#710707"/><ellipse cx="275" cy="305" rx="40.5" ry="43" fill="#000"/><ellipse cx="282" cy="250" rx="30" ry="22" fill="#d60d0d"/><ellipse cx="490" cy="270" rx="42" ry="135" transform="rotate(-15 490 270)" fill="#610606"/><ellipse cx="512" cy="345" rx="33" ry="48" transform="rotate(-15 512 345)" fill="#000"/><ellipse cx="470" cy="290" rx="20" ry="40" transform="rotate(-15 470 290)" fill="#ff1111"/><ellipse cx="560" cy="212" rx="55" ry="25" fill="#820808"/><ellipse cx="565" cy="235" rx="38" ry="15.5" fill="#000"/><ellipse cx="945" cy="365" rx="105" ry="25" transform="rotate(-28 945 365)" fill="#710707"/><ellipse cx="1010" cy="415" rx="40" ry="12" transform="rotate(20 1010 415)" fill="#610606"/><ellipse cx="760" cy="420" rx="50" ry="62" transform="rotate(-30 760 420)" fill="#610606"/><ellipse cx="738" cy="392" rx="30.5" ry="34.2" transform="rotate(-30 738 392)" fill="#000"/><ellipse cx="772" cy="442" rx="25" ry="18" transform="rotate(30 772 442)" fill="#ff1111"/><ellipse cx="660" cy="470" rx="26" ry="190" transform="rotate(-10 660 470)" fill="#590505"/><ellipse cx="672" cy="520" rx="16.8" ry="65.5" transform="rotate(-10 672 520)" fill="#000"/><ellipse cx="395" cy="450" rx="34" ry="90" fill="#590505"/><ellipse cx="390" cy="428" rx="24.2" ry="33" fill="#000"/><ellipse cx="400" cy="482" rx="20" ry="22" fill="#f50f0f"/><ellipse cx="195" cy="445" rx="62" ry="50" transform="rotate(20 195 445)" fill="#610606"/><ellipse cx="185" cy="435" rx="43" ry="30.5" transform="rotate(20 185 435)" fill="#000"/><ellipse cx="200" cy="468" rx="35" ry="15" transform="rotate(10 200 468)" fill="#f50f0f"/><ellipse cx="92" cy="500" rx="40" ry="72" fill="#610606"/><ellipse cx="78" cy="510" rx="20.5" ry="40.5" fill="#000"/><ellipse cx="108" cy="505" rx="18" ry="35" fill="#f50f0f"/><ellipse cx="85" cy="400" rx="6" ry="50" fill="#510505"/><ellipse cx="8" cy="480" rx="12" ry="25" fill="#410404"/><ellipse cx="345" cy="625" rx="56" ry="45" fill="#690606"/><ellipse cx="340" cy="620" rx="44.2" ry="34.2" fill="#000"/><ellipse cx="515" cy="630" rx="34" ry="112" fill="#610606"/><ellipse cx="510" cy="608" rx="21.8" ry="55.5" fill="#000"/><ellipse cx="518" cy="692" rx="18" ry="30" fill="#f50f0f"/><ellipse cx="900" cy="630" rx="55" ry="66" fill="#610606"/><ellipse cx="885" cy="635" rx="40.5" ry="46.8" fill="#000"/><ellipse cx="928" cy="642" rx="16" ry="28" fill="#d60d0d"/><ellipse cx="865" cy="530" rx="10" ry="45" transform="rotate(-10 865 530)" fill="#510505"/><ellipse cx="780" cy="760" rx="35" ry="82" transform="rotate(5 780 760)" fill="#590505"/><ellipse cx="790" cy="770" rx="21.8" ry="48" transform="rotate(5 790 770)" fill="#000"/><ellipse cx="650" cy="870" rx="50" ry="80" transform="rotate(15 650 870)" fill="#590505"/><ellipse cx="640" cy="860" rx="30.5" ry="53" transform="rotate(15 640 860)" fill="#000"/><ellipse cx="682" cy="925" rx="20" ry="22" fill="#b80b0b"/><ellipse cx="755" cy="850" rx="40" ry="60" fill="#490404"/><ellipse cx="755" cy="850" rx="33" ry="53" fill="#000"/><ellipse cx="1032" cy="770" rx="20" ry="42" fill="#710707"/><ellipse cx="890" cy="880" rx="12" ry="20" fill="#610606"/><ellipse cx="30" cy="870" rx="42" ry="36" fill="#610606"/><ellipse cx="55" cy="870" rx="18" ry="18" fill="#000"/><ellipse cx="330" cy="980" rx="35" ry="55" transform="rotate(10 330 980)" fill="#510505"/><ellipse cx="515" cy="1012" rx="40" ry="30" fill="#100101"/></g></svg><div class="bar" style="left:30.3px;top:275px;width:68.2px"></div><div class="lab" style="left:11.5px;top:1px">b<sub>2</sub></div><div class="tag" style="right:7px;top:5px">Mitochondrion</div></div>
<div class="panel" style="left:679.4px;top:390.2px;width:308px;height:308.2px"><svg viewBox="0 0 1047 1047" preserveAspectRatio="none"><defs><filter id="fc2g" x="0" y="0" width="1047" height="1047" filterUnits="userSpaceOnUse" color-interpolation-filters="sRGB"><feTurbulence type="fractalNoise" baseFrequency="0.013" numOctaves="2" seed="55" result="d"/><feDisplacementMap in="SourceGraphic" in2="d" scale="46" xChannelSelector="R" yChannelSelector="G" result="w"/><feGaussianBlur in="w" stdDeviation="5" result="b"/><feTurbulence type="fractalNoise" baseFrequency="0.21" numOctaves="2" seed="15" result="t"/><feColorMatrix in="t" type="matrix" values="3.6 0 0 0 -1.5  3.6 0 0 0 -1.5  3.6 0 0 0 -1.5  0 0 0 0 1" result="n"/><feComposite in="b" in2="n" operator="arithmetic" k1="2.0" k2="0.3" k3="0" k4="0"/></filter><filter id="fc2r" x="0" y="0" width="1047" height="1047" filterUnits="userSpaceOnUse" color-interpolation-filters="sRGB"><feTurbulence type="fractalNoise" baseFrequency="0.013" numOctaves="2" seed="55" result="d"/><feDisplacementMap in="SourceGraphic" in2="d" scale="46" xChannelSelector="R" yChannelSelector="G" result="w"/><feGaussianBlur in="w" stdDeviation="5" result="b"/><feTurbulence type="fractalNoise" baseFrequency="0.21" numOctaves="2" seed="18" result="t"/><feColorMatrix in="t" type="matrix" values="3.6 0 0 0 -1.5  3.6 0 0 0 -1.5  3.6 0 0 0 -1.5  0 0 0 0 1" result="n"/><feComposite in="b" in2="n" operator="arithmetic" k1="2.0" k2="0.3" k3="0" k4="0"/></filter></defs><g filter="url(#fc2g)"><rect width="1047" height="1047" fill="#000"/><ellipse cx="90" cy="30" rx="54.4" ry="32" fill="#020b02"/><ellipse cx="480" cy="35" rx="110.4" ry="46.6" fill="#041904"/><ellipse cx="365" cy="120" rx="28.6" ry="132.8" transform="rotate(-18 365 120)" fill="#041504"/><ellipse cx="740" cy="100" rx="73.4" ry="51" transform="rotate(-10 740 100)" fill="#051c05"/><ellipse cx="940" cy="170" rx="60" ry="127.2" transform="rotate(5 940 170)" fill="#031303"/><ellipse cx="810" cy="235" rx="46.6" ry="62.2" fill="#031303"/><ellipse cx="120" cy="240" rx="54.4" ry="65.6" transform="rotate(30 120 240)" fill="#031003"/><ellipse cx="275" cy="285" rx="71.2" ry="84.6" fill="#031303"/><ellipse cx="490" cy="270" rx="51" ry="155.2" transform="rotate(-15 490 270)" fill="#031203"/><ellipse cx="560" cy="212" rx="65.6" ry="32" fill="#041a04"/><ellipse cx="945" cy="365" rx="121.6" ry="32" transform="rotate(-28 945 365)" fill="#041504"/><ellipse cx="1010" cy="415" rx="48.8" ry="17.4" transform="rotate(20 1010 415)" fill="#031203"/><ellipse cx="760" cy="420" rx="60" ry="73.4" transform="rotate(-30 760 420)" fill="#041504"/><ellipse cx="660" cy="470" rx="33.1" ry="216.8" transform="rotate(-10 660 470)" fill="#031003"/><ellipse cx="395" cy="450" rx="42.1" ry="104.8" fill="#031303"/><ellipse cx="195" cy="445" rx="73.4" ry="60" transform="rotate(20 195 445)" fill="#031303"/><ellipse cx="92" cy="500" rx="48.8" ry="84.6" fill="#031303"/><ellipse cx="85" cy="400" rx="10.7" ry="60" fill="#020e02"/><ellipse cx="8" cy="480" rx="17.4" ry="32" fill="#031203"/><ellipse cx="345" cy="625" rx="66.7" ry="54.4" fill="#041504"/><ellipse cx="515" cy="630" rx="42.1" ry="129.4" fill="#031303"/><ellipse cx="900" cy="630" rx="65.6" ry="77.9" fill="#041504"/><ellipse cx="865" cy="530" rx="15.2" ry="54.4" transform="rotate(-10 865 530)" fill="#041504"/><ellipse cx="780" cy="760" rx="43.2" ry="95.8" transform="rotate(5 780 760)" fill="#031203"/><ellipse cx="650" cy="870" rx="60" ry="93.6" transform="rotate(15 650 870)" fill="#031303"/><ellipse cx="755" cy="850" rx="48.8" ry="71.2" fill="#031003"/><ellipse cx="1032" cy="770" rx="26.4" ry="51" fill="#041904"/><ellipse cx="890" cy="880" rx="17.4" ry="26.4" fill="#051c05"/><ellipse cx="30" cy="870" rx="51" ry="44.3" fill="#041a04"/><ellipse cx="330" cy="980" rx="43.2" ry="65.6" transform="rotate(10 330 980)" fill="#041704"/><ellipse cx="515" cy="1012" rx="48.8" ry="37.6" fill="#020c02"/><ellipse cx="90" cy="30" rx="45" ry="25" fill="#072a07"/><ellipse cx="480" cy="35" rx="95" ry="38" fill="#106310"/><ellipse cx="365" cy="120" rx="22" ry="115" transform="rotate(-18 365 120)" fill="#0e540e"/><ellipse cx="740" cy="100" rx="62" ry="42" transform="rotate(-10 740 100)" fill="#137113"/><ellipse cx="790" cy="140" rx="20" ry="14" fill="#000"/><ellipse cx="940" cy="170" rx="50" ry="110" transform="rotate(5 940 170)" fill="#0d4d0d"/><ellipse cx="930" cy="165" rx="22" ry="45" fill="#22ca22"/><ellipse cx="810" cy="235" rx="38" ry="52" fill="#0d4d0d"/><ellipse cx="815" cy="240" rx="25.5" ry="30.5" fill="#000"/><ellipse cx="120" cy="240" rx="45" ry="55" transform="rotate(30 120 240)" fill="#0b3f0b"/><ellipse cx="275" cy="285" rx="60" ry="72" fill="#0d4d0d"/><ellipse cx="275" cy="305" rx="40.5" ry="43" fill="#000"/><ellipse cx="282" cy="250" rx="30" ry="22" fill="#26e326"/><ellipse cx="490" cy="270" rx="42" ry="135" transform="rotate(-15 490 270)" fill="#0c460c"/><ellipse cx="512" cy="345" rx="33" ry="48" transform="rotate(-15 512 345)" fill="#000"/><ellipse cx="470" cy="290" rx="20" ry="40" transform="rotate(-15 470 290)" fill="#1db01d"/><ellipse cx="560" cy="212" rx="55" ry="25" fill="#126a12"/><ellipse cx="565" cy="235" rx="38" ry="15.5" fill="#000"/><ellipse cx="945" cy="365" rx="105" ry="25" transform="rotate(-28 945 365)" fill="#0e540e"/><ellipse cx="1010" cy="415" rx="40" ry="12" transform="rotate(20 1010 415)" fill="#0c460c"/><ellipse cx="760" cy="420" rx="50" ry="62" transform="rotate(-30 760 420)" fill="#0e540e"/><ellipse cx="738" cy="392" rx="30.5" ry="34.2" transform="rotate(-30 738 392)" fill="#000"/><ellipse cx="772" cy="442" rx="25" ry="18" transform="rotate(30 772 442)" fill="#26e326"/><ellipse cx="660" cy="470" rx="26" ry="190" transform="rotate(-10 660 470)" fill="#0b3f0b"/><ellipse cx="672" cy="520" rx="16.8" ry="65.5" transform="rotate(-10 672 520)" fill="#000"/><ellipse cx="395" cy="450" rx="34" ry="90" fill="#0d4d0d"/><ellipse cx="390" cy="428" rx="24.2" ry="33" fill="#000"/><ellipse cx="400" cy="482" rx="20" ry="22" fill="#26e326"/><ellipse cx="195" cy="445" rx="62" ry="50" transform="rotate(20 195 445)" fill="#0d4d0d"/><ellipse cx="185" cy="435" rx="43" ry="30.5" transform="rotate(20 185 435)" fill="#000"/><ellipse cx="200" cy="468" rx="35" ry="15" transform="rotate(10 200 468)" fill="#26e326"/><ellipse cx="92" cy="500" rx="40" ry="72" fill="#0d4d0d"/><ellipse cx="78" cy="510" rx="20.5" ry="40.5" fill="#000"/><ellipse cx="108" cy="505" rx="18" ry="35" fill="#26e326"/><ellipse cx="85" cy="400" rx="6" ry="50" fill="#093809"/><ellipse cx="8" cy="480" rx="12" ry="25" fill="#0c460c"/><ellipse cx="345" cy="625" rx="56" ry="45" fill="#0e540e"/><ellipse cx="340" cy="620" rx="44.2" ry="34.2" fill="#000"/><ellipse cx="515" cy="630" rx="34" ry="112" fill="#0d4d0d"/><ellipse cx="510" cy="608" rx="21.8" ry="55.5" fill="#000"/><ellipse cx="518" cy="692" rx="18" ry="30" fill="#26e326"/><ellipse cx="900" cy="630" rx="55" ry="66" fill="#0e540e"/><ellipse cx="885" cy="635" rx="40.5" ry="46.8" fill="#000"/><ellipse cx="928" cy="642" rx="16" ry="28" fill="#28ef28"/><ellipse cx="865" cy="530" rx="10" ry="45" transform="rotate(-10 865 530)" fill="#0e540e"/><ellipse cx="780" cy="760" rx="35" ry="82" transform="rotate(5 780 760)" fill="#0c460c"/><ellipse cx="790" cy="770" rx="21.8" ry="48" transform="rotate(5 790 770)" fill="#000"/><ellipse cx="650" cy="870" rx="50" ry="80" transform="rotate(15 650 870)" fill="#0d4d0d"/><ellipse cx="640" cy="860" rx="30.5" ry="53" transform="rotate(15 640 860)" fill="#000"/><ellipse cx="682" cy="925" rx="20" ry="22" fill="#26e326"/><ellipse cx="755" cy="850" rx="40" ry="60" fill="#0b3f0b"/><ellipse cx="755" cy="850" rx="33" ry="53" fill="#000"/><ellipse cx="1032" cy="770" rx="20" ry="42" fill="#106310"/><ellipse cx="890" cy="880" rx="12" ry="20" fill="#137113"/><ellipse cx="30" cy="870" rx="42" ry="36" fill="#126a12"/><ellipse cx="55" cy="870" rx="18" ry="18" fill="#000"/><ellipse cx="330" cy="980" rx="35" ry="55" transform="rotate(10 330 980)" fill="#0f5c0f"/><ellipse cx="515" cy="1012" rx="40" ry="30" fill="#083108"/></g><g filter="url(#fc2r)" style="mix-blend-mode:screen"><rect width="1047" height="1047" fill="#000"/><ellipse cx="90" cy="30" rx="54.4" ry="32" fill="#0c0101"/><ellipse cx="480" cy="35" rx="110.4" ry="46.6" fill="#100101"/><ellipse cx="365" cy="120" rx="28.6" ry="132.8" transform="rotate(-18 365 120)" fill="#170101"/><ellipse cx="740" cy="100" rx="73.4" ry="51" transform="rotate(-10 740 100)" fill="#210202"/><ellipse cx="940" cy="170" rx="60" ry="127.2" transform="rotate(5 940 170)" fill="#1a0202"/><ellipse cx="810" cy="235" rx="46.6" ry="62.2" fill="#1c0202"/><ellipse cx="120" cy="240" rx="54.4" ry="65.6" transform="rotate(30 120 240)" fill="#100101"/><ellipse cx="275" cy="285" rx="71.2" ry="84.6" fill="#210202"/><ellipse cx="490" cy="270" rx="51" ry="155.2" transform="rotate(-15 490 270)" fill="#1c0202"/><ellipse cx="560" cy="212" rx="65.6" ry="32" fill="#250202"/><ellipse cx="945" cy="365" rx="121.6" ry="32" transform="rotate(-28 945 365)" fill="#210202"/><ellipse cx="1010" cy="415" rx="48.8" ry="17.4" transform="rotate(20 1010 415)" fill="#1c0202"/><ellipse cx="760" cy="420" rx="60" ry="73.4" transform="rotate(-30 760 420)" fill="#1c0202"/><ellipse cx="660" cy="470" rx="33.1" ry="216.8" transform="rotate(-10 660 470)" fill="#1a0202"/><ellipse cx="395" cy="450" rx="42.1" ry="104.8" fill="#1a0202"/><ellipse cx="195" cy="445" rx="73.4" ry="60" transform="rotate(20 195 445)" fill="#1c0202"/><ellipse cx="92" cy="500" rx="48.8" ry="84.6" fill="#1c0202"/><ellipse cx="85" cy="400" rx="10.7" ry="60" fill="#170101"/><ellipse cx="8" cy="480" rx="17.4" ry="32" fill="#130101"/><ellipse cx="345" cy="625" rx="66.7" ry="54.4" fill="#1e0202"/><ellipse cx="515" cy="630" rx="42.1" ry="129.4" fill="#1c0202"/><ellipse cx="900" cy="630" rx="65.6" ry="77.9" fill="#1c0202"/><ellipse cx="865" cy="530" rx="15.2" ry="54.4" transform="rotate(-10 865 530)" fill="#170101"/><ellipse cx="780" cy="760" rx="43.2" ry="95.8" transform="rotate(5 780 760)" fill="#1a0202"/><ellipse cx="650" cy="870" rx="60" ry="93.6" transform="rotate(15 650 870)" fill="#1a0202"/><ellipse cx="755" cy="850" rx="48.8" ry="71.2" fill="#150101"/><ellipse cx="1032" cy="770" rx="26.4" ry="51" fill="#210202"/><ellipse cx="890" cy="880" rx="17.4" ry="26.4" fill="#1c0202"/><ellipse cx="30" cy="870" rx="51" ry="44.3" fill="#1c0202"/><ellipse cx="330" cy="980" rx="43.2" ry="65.6" transform="rotate(10 330 980)" fill="#170101"/><ellipse cx="515" cy="1012" rx="48.8" ry="37.6" fill="#050000"/><ellipse cx="90" cy="30" rx="45" ry="25" fill="#2f0303"/><ellipse cx="480" cy="35" rx="95" ry="38" fill="#410404"/><ellipse cx="365" cy="120" rx="22" ry="115" transform="rotate(-18 365 120)" fill="#5d0606"/><ellipse cx="740" cy="100" rx="62" ry="42" transform="rotate(-10 740 100)" fill="#820808"/><ellipse cx="790" cy="140" rx="20" ry="14" fill="#000"/><ellipse cx="940" cy="170" rx="50" ry="110" transform="rotate(5 940 170)" fill="#660606"/><ellipse cx="930" cy="165" rx="22" ry="45" fill="#f60f0f"/><ellipse cx="810" cy="235" rx="38" ry="52" fill="#700707"/><ellipse cx="815" cy="240" rx="25.5" ry="30.5" fill="#000"/><ellipse cx="120" cy="240" rx="45" ry="55" transform="rotate(30 120 240)" fill="#410404"/><ellipse cx="275" cy="285" rx="60" ry="72" fill="#820808"/><ellipse cx="275" cy="305" rx="40.5" ry="43" fill="#000"/><ellipse cx="282" cy="250" rx="30" ry="22" fill="#f60f0f"/><ellipse cx="490" cy="270" rx="42" ry="135" transform="rotate(-15 490 270)" fill="#700707"/><ellipse cx="512" cy="345" rx="33" ry="48" transform="rotate(-15 512 345)" fill="#000"/><ellipse cx="470" cy="290" rx="20" ry="40" transform="rotate(-15 470 290)" fill="#ff1313"/><ellipse cx="560" cy="212" rx="55" ry="25" fill="#950909"/><ellipse cx="565" cy="235" rx="38" ry="15.5" fill="#000"/><ellipse cx="945" cy="365" rx="105" ry="25" transform="rotate(-28 945 365)" fill="#820808"/><ellipse cx="1010" cy="415" rx="40" ry="12" transform="rotate(20 1010 415)" fill="#700707"/><ellipse cx="760" cy="420" rx="50" ry="62" transform="rotate(-30 760 420)" fill="#700707"/><ellipse cx="738" cy="392" rx="30.5" ry="34.2" transform="rotate(-30 738 392)" fill="#000"/><ellipse cx="772" cy="442" rx="25" ry="18" transform="rotate(30 772 442)" fill="#ff1313"/><ellipse cx="660" cy="470" rx="26" ry="190" transform="rotate(-10 660 470)" fill="#660606"/><ellipse cx="672" cy="520" rx="16.8" ry="65.5" transform="rotate(-10 672 520)" fill="#000"/><ellipse cx="395" cy="450" rx="34" ry="90" fill="#660606"/><ellipse cx="390" cy="428" rx="24.2" ry="33" fill="#000"/><ellipse cx="400" cy="482" rx="20" ry="22" fill="#ff1111"/><ellipse cx="195" cy="445" rx="62" ry="50" transform="rotate(20 195 445)" fill="#700707"/><ellipse cx="185" cy="435" rx="43" ry="30.5" transform="rotate(20 185 435)" fill="#000"/><ellipse cx="200" cy="468" rx="35" ry="15" transform="rotate(10 200 468)" fill="#ff1111"/><ellipse cx="92" cy="500" rx="40" ry="72" fill="#700707"/><ellipse cx="78" cy="510" rx="20.5" ry="40.5" fill="#000"/><ellipse cx="108" cy="505" rx="18" ry="35" fill="#ff1111"/><ellipse cx="85" cy="400" rx="6" ry="50" fill="#5d0606"/><ellipse cx="8" cy="480" rx="12" ry="25" fill="#4b0505"/><ellipse cx="345" cy="625" rx="56" ry="45" fill="#790707"/><ellipse cx="340" cy="620" rx="44.2" ry="34.2" fill="#000"/><ellipse cx="515" cy="630" rx="34" ry="112" fill="#700707"/><ellipse cx="510" cy="608" rx="21.8" ry="55.5" fill="#000"/><ellipse cx="518" cy="692" rx="18" ry="30" fill="#ff1111"/><ellipse cx="900" cy="630" rx="55" ry="66" fill="#700707"/><ellipse cx="885" cy="635" rx="40.5" ry="46.8" fill="#000"/><ellipse cx="928" cy="642" rx="16" ry="28" fill="#f60f0f"/><ellipse cx="865" cy="530" rx="10" ry="45" transform="rotate(-10 865 530)" fill="#5d0606"/><ellipse cx="780" cy="760" rx="35" ry="82" transform="rotate(5 780 760)" fill="#660606"/><ellipse cx="790" cy="770" rx="21.8" ry="48" transform="rotate(5 790 770)" fill="#000"/><ellipse cx="650" cy="870" rx="50" ry="80" transform="rotate(15 650 870)" fill="#660606"/><ellipse cx="640" cy="860" rx="30.5" ry="53" transform="rotate(15 640 860)" fill="#000"/><ellipse cx="682" cy="925" rx="20" ry="22" fill="#d30d0d"/><ellipse cx="755" cy="850" rx="40" ry="60" fill="#540505"/><ellipse cx="755" cy="850" rx="33" ry="53" fill="#000"/><ellipse cx="1032" cy="770" rx="20" ry="42" fill="#820808"/><ellipse cx="890" cy="880" rx="12" ry="20" fill="#700707"/><ellipse cx="30" cy="870" rx="42" ry="36" fill="#700707"/><ellipse cx="55" cy="870" rx="18" ry="18" fill="#000"/><ellipse cx="330" cy="980" rx="35" ry="55" transform="rotate(10 330 980)" fill="#5d0606"/><ellipse cx="515" cy="1012" rx="40" ry="30" fill="#130101"/></g><path d="M440 655L560 480" stroke="#f0e628" stroke-width="7.6" fill="none"/></svg><div class="bar" style="left:31px;top:275px;width:68.2px"></div><div class="lab" style="left:14.5px;top:1px">c<sub>2</sub></div></div>
<div class="panel" style="left:12px;top:719px;width:307.3px;height:309.6px"><svg viewBox="0 0 1047 1047" preserveAspectRatio="none"><defs><filter id="fa3" x="0" y="0" width="1047" height="1047" filterUnits="userSpaceOnUse" color-interpolation-filters="sRGB"><feTurbulence type="fractalNoise" baseFrequency="0.013" numOctaves="2" seed="62" result="d"/><feDisplacementMap in="SourceGraphic" in2="d" scale="46" xChannelSelector="R" yChannelSelector="G" result="w"/><feGaussianBlur in="w" stdDeviation="5" result="b"/><feTurbulence type="fractalNoise" baseFrequency="0.21" numOctaves="2" seed="22" result="t"/><feColorMatrix in="t" type="matrix" values="3.6 0 0 0 -1.5  3.6 0 0 0 -1.5  3.6 0 0 0 -1.5  0 0 0 0 1" result="n"/><feComposite in="b" in2="n" operator="arithmetic" k1="2.0" k2="0.3" k3="0" k4="0"/></filter></defs><g id="La3" filter="url(#fa3)"><rect width="1047" height="1047" fill="#000"/><ellipse cx="100" cy="95" rx="48.8" ry="37.6" transform="rotate(30 100 95)" fill="#000100"/><ellipse cx="700" cy="10" rx="37.6" ry="17.4" fill="#010801"/><ellipse cx="1010" cy="20" rx="37.6" ry="32" fill="#020b02"/><ellipse cx="490" cy="120" rx="48.8" ry="69" fill="#010801"/><ellipse cx="725" cy="115" rx="57.8" ry="46.6" fill="#010801"/><ellipse cx="975" cy="165" rx="54.4" ry="60" fill="#010801"/><ellipse cx="710" cy="260" rx="71.2" ry="65.6" fill="#031003"/><ellipse cx="150" cy="270" rx="43.2" ry="62.2" fill="#020b02"/><ellipse cx="405" cy="355" rx="138.4" ry="32" transform="rotate(15 405 355)" fill="#020c02"/><ellipse cx="15" cy="450" rx="26.4" ry="32" fill="#031003"/><ellipse cx="735" cy="500" rx="60" ry="104.8" fill="#020c02"/><ellipse cx="860" cy="490" rx="60" ry="116" fill="#010801"/><ellipse cx="585" cy="585" rx="37.6" ry="155.2" transform="rotate(-8 585 585)" fill="#020e02"/><ellipse cx="115" cy="560" rx="54.4" ry="60" fill="#020a02"/><ellipse cx="145" cy="730" rx="62.2" ry="60" fill="#020a02"/><ellipse cx="285" cy="800" rx="62.2" ry="51" fill="#020a02"/><ellipse cx="790" cy="775" rx="76.8" ry="76.8" fill="#020e02"/><ellipse cx="985" cy="770" rx="69" ry="48.8" fill="#010801"/><ellipse cx="610" cy="820" rx="172" ry="28.6" transform="rotate(42 610 820)" fill="#020b02"/><ellipse cx="125" cy="915" rx="35.4" ry="35.4" fill="#041604"/><ellipse cx="520" cy="940" rx="71.2" ry="55.5" fill="#010801"/><ellipse cx="350" cy="970" rx="48.8" ry="62.2" fill="#020c02"/><ellipse cx="30" cy="1030" rx="43.2" ry="32" fill="#020e02"/><ellipse cx="240" cy="1035" rx="48.8" ry="26.4" fill="#010801"/><ellipse cx="100" cy="95" rx="40" ry="30" transform="rotate(30 100 95)" fill="#010501"/><ellipse cx="700" cy="10" rx="30" ry="12" fill="#052105"/><ellipse cx="1010" cy="20" rx="30" ry="25" fill="#072c07"/><ellipse cx="490" cy="120" rx="40" ry="58" fill="#052105"/><ellipse cx="480" cy="100" rx="23" ry="28" fill="#000"/><ellipse cx="505" cy="125" rx="22" ry="30" fill="#2afc2a"/><ellipse cx="725" cy="115" rx="48" ry="38" fill="#052105"/><ellipse cx="722" cy="115" rx="30" ry="22" fill="#2afc2a"/><ellipse cx="975" cy="165" rx="45" ry="50" fill="#052105"/><ellipse cx="990" cy="170" rx="20" ry="25" fill="#28ef28"/><ellipse cx="710" cy="260" rx="60" ry="55" fill="#0b420b"/><ellipse cx="715" cy="268" rx="38" ry="34.2" fill="#000"/><ellipse cx="700" cy="225" rx="30" ry="14" transform="rotate(-15 700 225)" fill="#26e126"/><ellipse cx="150" cy="270" rx="35" ry="52" fill="#072c07"/><ellipse cx="405" cy="355" rx="120" ry="25" transform="rotate(15 405 355)" fill="#083108"/><ellipse cx="385" cy="350" rx="46.8" ry="13" transform="rotate(15 385 350)" fill="#000"/><ellipse cx="432" cy="357" rx="28" ry="14" transform="rotate(15 432 357)" fill="#23d423"/><ellipse cx="15" cy="450" rx="20" ry="25" fill="#0b420b"/><ellipse cx="735" cy="500" rx="50" ry="90" fill="#083108"/><ellipse cx="725" cy="500" rx="36.8" ry="68" fill="#000"/><ellipse cx="762" cy="500" rx="13" ry="42" fill="#23d423"/><ellipse cx="860" cy="490" rx="50" ry="100" fill="#052105"/><ellipse cx="850" cy="540" rx="34.2" ry="46.8" fill="#000"/><ellipse cx="862" cy="480" rx="30" ry="26" fill="#2afc2a"/><ellipse cx="585" cy="585" rx="30" ry="135" transform="rotate(-8 585 585)" fill="#093709"/><ellipse cx="592" cy="612" rx="16.8" ry="50.5" transform="rotate(-8 592 612)" fill="#000"/><ellipse cx="576" cy="545" rx="17" ry="42" transform="rotate(-8 576 545)" fill="#28ef28"/><ellipse cx="115" cy="560" rx="45" ry="50" fill="#062606"/><ellipse cx="122" cy="570" rx="24" ry="20" fill="#26e126"/><ellipse cx="145" cy="730" rx="52" ry="50" fill="#062606"/><ellipse cx="150" cy="745" rx="33" ry="25.5" fill="#000"/><ellipse cx="135" cy="714" rx="24" ry="16" fill="#28ef28"/><ellipse cx="285" cy="800" rx="52" ry="42" fill="#062606"/><ellipse cx="300" cy="810" rx="28" ry="20.5" fill="#000"/><ellipse cx="278" cy="794" rx="26" ry="20" fill="#28ef28"/><ellipse cx="790" cy="775" rx="65" ry="65" fill="#093709"/><ellipse cx="785" cy="780" rx="43" ry="43" fill="#000"/><ellipse cx="985" cy="770" rx="58" ry="40" fill="#052105"/><ellipse cx="955" cy="775" rx="21.8" ry="18" fill="#000"/><ellipse cx="996" cy="770" rx="26" ry="20" fill="#2afc2a"/><ellipse cx="610" cy="820" rx="150" ry="22" transform="rotate(42 610 820)" fill="#072c07"/><ellipse cx="590" cy="800" rx="53" ry="11.8" transform="rotate(42 590 800)" fill="#000"/><ellipse cx="125" cy="915" rx="28" ry="28" fill="#0f570f"/><ellipse cx="520" cy="940" rx="60" ry="46" fill="#052105"/><ellipse cx="495" cy="925" rx="25.5" ry="20.5" fill="#000"/><ellipse cx="525" cy="942" rx="30" ry="28" fill="#28ef28"/><ellipse cx="350" cy="970" rx="40" ry="52" fill="#083108"/><ellipse cx="350" cy="960" rx="16" ry="30" fill="#26e126"/><ellipse cx="30" cy="1030" rx="35" ry="25" fill="#093709"/><ellipse cx="240" cy="1035" rx="40" ry="20" fill="#052105"/></g></svg><div class="bar" style="left:31px;top:277.3px;width:68.6px"></div><div class="lab" style="left:10.5px;top:2px">a<sub>3</sub></div><div class="tag" style="left:14.5px;right:auto;top:237.5px;font-size:35px">20 μm</div></div>
<div class="panel" style="left:345.2px;top:719px;width:308.1px;height:309.6px"><svg viewBox="0 0 1047 1047" preserveAspectRatio="none"><defs><filter id="fb3" x="0" y="0" width="1047" height="1047" filterUnits="userSpaceOnUse" color-interpolation-filters="sRGB"><feTurbulence type="fractalNoise" baseFrequency="0.013" numOctaves="2" seed="62" result="d"/><feDisplacementMap in="SourceGraphic" in2="d" scale="46" xChannelSelector="R" yChannelSelector="G" result="w"/><feGaussianBlur in="w" stdDeviation="5" result="b"/><feTurbulence type="fractalNoise" baseFrequency="0.21" numOctaves="2" seed="25" result="t"/><feColorMatrix in="t" type="matrix" values="3.6 0 0 0 -1.5  3.6 0 0 0 -1.5  3.6 0 0 0 -1.5  0 0 0 0 1" result="n"/><feComposite in="b" in2="n" operator="arithmetic" k1="0.9" k2="0.75" k3="0" k4="0"/></filter></defs><g id="Lb3" filter="url(#fb3)"><rect width="1047" height="1047" fill="#000"/><ellipse cx="100" cy="95" rx="48.8" ry="37.6" transform="rotate(30 100 95)" fill="#02031c"/><ellipse cx="700" cy="10" rx="37.6" ry="17.4" fill="#01010a"/><ellipse cx="1010" cy="20" rx="37.6" ry="32" fill="#01020f"/><ellipse cx="490" cy="120" rx="48.8" ry="69" fill="#010212"/><ellipse cx="725" cy="115" rx="57.8" ry="46.6" fill="#01020f"/><ellipse cx="975" cy="165" rx="54.4" ry="60" fill="#01020f"/><ellipse cx="710" cy="260" rx="71.2" ry="65.6" fill="#02031f"/><ellipse cx="150" cy="270" rx="43.2" ry="62.2" fill="#020217"/><ellipse cx="405" cy="355" rx="138.4" ry="32" transform="rotate(15 405 355)" fill="#02031f"/><ellipse cx="15" cy="450" rx="26.4" ry="32" fill="#020424"/><ellipse cx="735" cy="500" rx="60" ry="104.8" fill="#020217"/><ellipse cx="860" cy="490" rx="60" ry="116" fill="#01020f"/><ellipse cx="585" cy="585" rx="37.6" ry="155.2" transform="rotate(-8 585 585)" fill="#02031f"/><ellipse cx="115" cy="560" rx="54.4" ry="60" fill="#01020f"/><ellipse cx="145" cy="730" rx="62.2" ry="60" fill="#020217"/><ellipse cx="285" cy="800" rx="62.2" ry="51" fill="#020217"/><ellipse cx="790" cy="775" rx="76.8" ry="76.8" fill="#02031f"/><ellipse cx="985" cy="770" rx="69" ry="48.8" fill="#020217"/><ellipse cx="610" cy="820" rx="172" ry="28.6" transform="rotate(42 610 820)" fill="#02031f"/><ellipse cx="125" cy="915" rx="35.4" ry="35.4" fill="#03052e"/><ellipse cx="520" cy="940" rx="71.2" ry="55.5" fill="#020217"/><ellipse cx="350" cy="970" rx="48.8" ry="62.2" fill="#02031a"/><ellipse cx="30" cy="1030" rx="43.2" ry="32" fill="#02031f"/><ellipse cx="240" cy="1035" rx="48.8" ry="26.4" fill="#02031a"/><ellipse cx="100" cy="95" rx="40" ry="30" transform="rotate(30 100 95)" fill="#070c70"/><ellipse cx="700" cy="10" rx="30" ry="12" fill="#030429"/><ellipse cx="1010" cy="20" rx="30" ry="25" fill="#04073d"/><ellipse cx="490" cy="120" rx="40" ry="58" fill="#050847"/><ellipse cx="480" cy="100" rx="23" ry="28" fill="#000"/><ellipse cx="505" cy="125" rx="22" ry="30" fill="#1828ff"/><ellipse cx="725" cy="115" rx="48" ry="38" fill="#04073d"/><ellipse cx="722" cy="115" rx="30" ry="22" fill="#1726ff"/><ellipse cx="975" cy="165" rx="45" ry="50" fill="#04073d"/><ellipse cx="990" cy="170" rx="20" ry="25" fill="#1726ff"/><ellipse cx="710" cy="260" rx="60" ry="55" fill="#080d7a"/><ellipse cx="715" cy="268" rx="38" ry="34.2" fill="#000"/><ellipse cx="700" cy="225" rx="30" ry="14" transform="rotate(-15 700 225)" fill="#1623ff"/><ellipse cx="150" cy="270" rx="35" ry="52" fill="#060a5c"/><ellipse cx="405" cy="355" rx="120" ry="25" transform="rotate(15 405 355)" fill="#080d7a"/><ellipse cx="385" cy="350" rx="46.8" ry="13" transform="rotate(15 385 350)" fill="#000"/><ellipse cx="432" cy="357" rx="28" ry="14" transform="rotate(15 432 357)" fill="#1a2aff"/><ellipse cx="15" cy="450" rx="20" ry="25" fill="#0a0f8f"/><ellipse cx="735" cy="500" rx="50" ry="90" fill="#060a5c"/><ellipse cx="725" cy="500" rx="36.8" ry="68" fill="#000"/><ellipse cx="762" cy="500" rx="13" ry="42" fill="#101bf5"/><ellipse cx="860" cy="490" rx="50" ry="100" fill="#04073d"/><ellipse cx="850" cy="540" rx="34.2" ry="46.8" fill="#000"/><ellipse cx="862" cy="480" rx="30" ry="26" fill="#1a2aff"/><ellipse cx="585" cy="585" rx="30" ry="135" transform="rotate(-8 585 585)" fill="#080d7a"/><ellipse cx="592" cy="612" rx="16.8" ry="50.5" transform="rotate(-8 592 612)" fill="#000"/><ellipse cx="576" cy="545" rx="17" ry="42" transform="rotate(-8 576 545)" fill="#1a2aff"/><ellipse cx="115" cy="560" rx="45" ry="50" fill="#04073d"/><ellipse cx="122" cy="570" rx="24" ry="20" fill="#1828ff"/><ellipse cx="145" cy="730" rx="52" ry="50" fill="#060a5c"/><ellipse cx="150" cy="745" rx="33" ry="25.5" fill="#000"/><ellipse cx="135" cy="714" rx="24" ry="16" fill="#1828ff"/><ellipse cx="285" cy="800" rx="52" ry="42" fill="#060a5c"/><ellipse cx="300" cy="810" rx="28" ry="20.5" fill="#000"/><ellipse cx="278" cy="794" rx="26" ry="20" fill="#1a2aff"/><ellipse cx="790" cy="775" rx="65" ry="65" fill="#080d7a"/><ellipse cx="785" cy="780" rx="43" ry="43" fill="#000"/><ellipse cx="985" cy="770" rx="58" ry="40" fill="#060a5c"/><ellipse cx="955" cy="775" rx="21.8" ry="18" fill="#000"/><ellipse cx="996" cy="770" rx="26" ry="20" fill="#1a2aff"/><ellipse cx="610" cy="820" rx="150" ry="22" transform="rotate(42 610 820)" fill="#080d7a"/><ellipse cx="590" cy="800" rx="53" ry="11.8" transform="rotate(42 590 800)" fill="#000"/><ellipse cx="125" cy="915" rx="28" ry="28" fill="#0c14b8"/><ellipse cx="520" cy="940" rx="60" ry="46" fill="#060a5c"/><ellipse cx="495" cy="925" rx="25.5" ry="20.5" fill="#000"/><ellipse cx="525" cy="942" rx="30" ry="28" fill="#1a2aff"/><ellipse cx="350" cy="970" rx="40" ry="52" fill="#070b66"/><ellipse cx="350" cy="960" rx="16" ry="30" fill="#1828ff"/><ellipse cx="30" cy="1030" rx="35" ry="25" fill="#080d7a"/><ellipse cx="240" cy="1035" rx="40" ry="20" fill="#070b66"/></g></svg><div class="bar" style="left:33px;top:277.3px;width:69.6px"></div><div class="lab" style="left:11.5px;top:2px">b<sub>3</sub></div><div class="tag" style="right:9.5px;top:7.5px">Lipid droplet</div></div>
<div class="panel" style="left:679.4px;top:719px;width:308px;height:309.6px"><svg viewBox="0 0 1047 1047" preserveAspectRatio="none"><defs><filter id="fc3g" x="0" y="0" width="1047" height="1047" filterUnits="userSpaceOnUse" color-interpolation-filters="sRGB"><feTurbulence type="fractalNoise" baseFrequency="0.013" numOctaves="2" seed="62" result="d"/><feDisplacementMap in="SourceGraphic" in2="d" scale="46" xChannelSelector="R" yChannelSelector="G" result="w"/><feGaussianBlur in="w" stdDeviation="5" result="b"/><feTurbulence type="fractalNoise" baseFrequency="0.21" numOctaves="2" seed="22" result="t"/><feColorMatrix in="t" type="matrix" values="3.6 0 0 0 -1.5  3.6 0 0 0 -1.5  3.6 0 0 0 -1.5  0 0 0 0 1" result="n"/><feComposite in="b" in2="n" operator="arithmetic" k1="2.0" k2="0.3" k3="0" k4="0"/></filter><filter id="fc3r" x="0" y="0" width="1047" height="1047" filterUnits="userSpaceOnUse" color-interpolation-filters="sRGB"><feTurbulence type="fractalNoise" baseFrequency="0.013" numOctaves="2" seed="62" result="d"/><feDisplacementMap in="SourceGraphic" in2="d" scale="46" xChannelSelector="R" yChannelSelector="G" result="w"/><feGaussianBlur in="w" stdDeviation="5" result="b"/><feTurbulence type="fractalNoise" baseFrequency="0.21" numOctaves="2" seed="22" result="t"/><feColorMatrix in="t" type="matrix" values="3.6 0 0 0 -1.5  3.6 0 0 0 -1.5  3.6 0 0 0 -1.5  0 0 0 0 1" result="n"/><feComposite in="b" in2="n" operator="arithmetic" k1="0.9" k2="0.75" k3="0" k4="0"/></filter></defs><g filter="url(#fc3g)"><rect width="1047" height="1047" fill="#000"/><ellipse cx="100" cy="95" rx="48.8" ry="37.6" transform="rotate(30 100 95)" fill="#000100"/><ellipse cx="700" cy="10" rx="37.6" ry="17.4" fill="#010801"/><ellipse cx="1010" cy="20" rx="37.6" ry="32" fill="#020a02"/><ellipse cx="490" cy="120" rx="48.8" ry="69" fill="#010801"/><ellipse cx="725" cy="115" rx="57.8" ry="46.6" fill="#010801"/><ellipse cx="975" cy="165" rx="54.4" ry="60" fill="#010801"/><ellipse cx="710" cy="260" rx="71.2" ry="65.6" fill="#031003"/><ellipse cx="150" cy="270" rx="43.2" ry="62.2" fill="#020a02"/><ellipse cx="405" cy="355" rx="138.4" ry="32" transform="rotate(15 405 355)" fill="#020c02"/><ellipse cx="15" cy="450" rx="26.4" ry="32" fill="#031003"/><ellipse cx="735" cy="500" rx="60" ry="104.8" fill="#020c02"/><ellipse cx="860" cy="490" rx="60" ry="116" fill="#010801"/><ellipse cx="585" cy="585" rx="37.6" ry="155.2" transform="rotate(-8 585 585)" fill="#020d02"/><ellipse cx="115" cy="560" rx="54.4" ry="60" fill="#020902"/><ellipse cx="145" cy="730" rx="62.2" ry="60" fill="#020902"/><ellipse cx="285" cy="800" rx="62.2" ry="51" fill="#020902"/><ellipse cx="790" cy="775" rx="76.8" ry="76.8" fill="#020d02"/><ellipse cx="985" cy="770" rx="69" ry="48.8" fill="#010801"/><ellipse cx="610" cy="820" rx="172" ry="28.6" transform="rotate(42 610 820)" fill="#020a02"/><ellipse cx="125" cy="915" rx="35.4" ry="35.4" fill="#031503"/><ellipse cx="520" cy="940" rx="71.2" ry="55.5" fill="#010801"/><ellipse cx="350" cy="970" rx="48.8" ry="62.2" fill="#020c02"/><ellipse cx="30" cy="1030" rx="43.2" ry="32" fill="#020d02"/><ellipse cx="240" cy="1035" rx="48.8" ry="26.4" fill="#010801"/><ellipse cx="100" cy="95" rx="40" ry="30" transform="rotate(30 100 95)" fill="#010501"/><ellipse cx="700" cy="10" rx="30" ry="12" fill="#051f05"/><ellipse cx="1010" cy="20" rx="30" ry="25" fill="#072907"/><ellipse cx="490" cy="120" rx="40" ry="58" fill="#051f05"/><ellipse cx="480" cy="100" rx="23" ry="28" fill="#000"/><ellipse cx="505" cy="125" rx="22" ry="30" fill="#28ef28"/><ellipse cx="725" cy="115" rx="48" ry="38" fill="#051f05"/><ellipse cx="722" cy="115" rx="30" ry="22" fill="#28ef28"/><ellipse cx="975" cy="165" rx="45" ry="50" fill="#051f05"/><ellipse cx="990" cy="170" rx="20" ry="25" fill="#26e326"/><ellipse cx="710" cy="260" rx="60" ry="55" fill="#0a3e0a"/><ellipse cx="715" cy="268" rx="38" ry="34.2" fill="#000"/><ellipse cx="700" cy="225" rx="30" ry="14" transform="rotate(-15 700 225)" fill="#24d624"/><ellipse cx="150" cy="270" rx="35" ry="52" fill="#072907"/><ellipse cx="405" cy="355" rx="120" ry="25" transform="rotate(15 405 355)" fill="#082f08"/><ellipse cx="385" cy="350" rx="46.8" ry="13" transform="rotate(15 385 350)" fill="#000"/><ellipse cx="432" cy="357" rx="28" ry="14" transform="rotate(15 432 357)" fill="#22ca22"/><ellipse cx="15" cy="450" rx="20" ry="25" fill="#0a3e0a"/><ellipse cx="735" cy="500" rx="50" ry="90" fill="#082f08"/><ellipse cx="725" cy="500" rx="36.8" ry="68" fill="#000"/><ellipse cx="762" cy="500" rx="13" ry="42" fill="#22ca22"/><ellipse cx="860" cy="490" rx="50" ry="100" fill="#051f05"/><ellipse cx="850" cy="540" rx="34.2" ry="46.8" fill="#000"/><ellipse cx="862" cy="480" rx="30" ry="26" fill="#28ef28"/><ellipse cx="585" cy="585" rx="30" ry="135" transform="rotate(-8 585 585)" fill="#093409"/><ellipse cx="592" cy="612" rx="16.8" ry="50.5" transform="rotate(-8 592 612)" fill="#000"/><ellipse cx="576" cy="545" rx="17" ry="42" transform="rotate(-8 576 545)" fill="#26e326"/><ellipse cx="115" cy="560" rx="45" ry="50" fill="#062406"/><ellipse cx="122" cy="570" rx="24" ry="20" fill="#24d624"/><ellipse cx="145" cy="730" rx="52" ry="50" fill="#062406"/><ellipse cx="150" cy="745" rx="33" ry="25.5" fill="#000"/><ellipse cx="135" cy="714" rx="24" ry="16" fill="#26e326"/><ellipse cx="285" cy="800" rx="52" ry="42" fill="#062406"/><ellipse cx="300" cy="810" rx="28" ry="20.5" fill="#000"/><ellipse cx="278" cy="794" rx="26" ry="20" fill="#26e326"/><ellipse cx="790" cy="775" rx="65" ry="65" fill="#093409"/><ellipse cx="785" cy="780" rx="43" ry="43" fill="#000"/><ellipse cx="985" cy="770" rx="58" ry="40" fill="#051f05"/><ellipse cx="955" cy="775" rx="21.8" ry="18" fill="#000"/><ellipse cx="996" cy="770" rx="26" ry="20" fill="#28ef28"/><ellipse cx="610" cy="820" rx="150" ry="22" transform="rotate(42 610 820)" fill="#072907"/><ellipse cx="590" cy="800" rx="53" ry="11.8" transform="rotate(42 590 800)" fill="#000"/><ellipse cx="125" cy="915" rx="28" ry="28" fill="#0e530e"/><ellipse cx="520" cy="940" rx="60" ry="46" fill="#051f05"/><ellipse cx="495" cy="925" rx="25.5" ry="20.5" fill="#000"/><ellipse cx="525" cy="942" rx="30" ry="28" fill="#26e326"/><ellipse cx="350" cy="970" rx="40" ry="52" fill="#082f08"/><ellipse cx="350" cy="960" rx="16" ry="30" fill="#24d624"/><ellipse cx="30" cy="1030" rx="35" ry="25" fill="#093409"/><ellipse cx="240" cy="1035" rx="40" ry="20" fill="#051f05"/></g><g filter="url(#fc3r)" style="mix-blend-mode:screen"><rect width="1047" height="1047" fill="#000"/><ellipse cx="100" cy="95" rx="48.8" ry="37.6" transform="rotate(30 100 95)" fill="#02031c"/><ellipse cx="700" cy="10" rx="37.6" ry="17.4" fill="#01010a"/><ellipse cx="1010" cy="20" rx="37.6" ry="32" fill="#01020f"/><ellipse cx="490" cy="120" rx="48.8" ry="69" fill="#010212"/><ellipse cx="725" cy="115" rx="57.8" ry="46.6" fill="#01020f"/><ellipse cx="975" cy="165" rx="54.4" ry="60" fill="#01020f"/><ellipse cx="710" cy="260" rx="71.2" ry="65.6" fill="#02031f"/><ellipse cx="150" cy="270" rx="43.2" ry="62.2" fill="#020217"/><ellipse cx="405" cy="355" rx="138.4" ry="32" transform="rotate(15 405 355)" fill="#02031f"/><ellipse cx="15" cy="450" rx="26.4" ry="32" fill="#020424"/><ellipse cx="735" cy="500" rx="60" ry="104.8" fill="#020217"/><ellipse cx="860" cy="490" rx="60" ry="116" fill="#01020f"/><ellipse cx="585" cy="585" rx="37.6" ry="155.2" transform="rotate(-8 585 585)" fill="#02031f"/><ellipse cx="115" cy="560" rx="54.4" ry="60" fill="#01020f"/><ellipse cx="145" cy="730" rx="62.2" ry="60" fill="#020217"/><ellipse cx="285" cy="800" rx="62.2" ry="51" fill="#020217"/><ellipse cx="790" cy="775" rx="76.8" ry="76.8" fill="#02031f"/><ellipse cx="985" cy="770" rx="69" ry="48.8" fill="#020217"/><ellipse cx="610" cy="820" rx="172" ry="28.6" transform="rotate(42 610 820)" fill="#02031f"/><ellipse cx="125" cy="915" rx="35.4" ry="35.4" fill="#03052e"/><ellipse cx="520" cy="940" rx="71.2" ry="55.5" fill="#020217"/><ellipse cx="350" cy="970" rx="48.8" ry="62.2" fill="#02031a"/><ellipse cx="30" cy="1030" rx="43.2" ry="32" fill="#02031f"/><ellipse cx="240" cy="1035" rx="48.8" ry="26.4" fill="#02031a"/><ellipse cx="100" cy="95" rx="40" ry="30" transform="rotate(30 100 95)" fill="#070c70"/><ellipse cx="700" cy="10" rx="30" ry="12" fill="#030429"/><ellipse cx="1010" cy="20" rx="30" ry="25" fill="#04073d"/><ellipse cx="490" cy="120" rx="40" ry="58" fill="#050847"/><ellipse cx="480" cy="100" rx="23" ry="28" fill="#000"/><ellipse cx="505" cy="125" rx="22" ry="30" fill="#1828ff"/><ellipse cx="725" cy="115" rx="48" ry="38" fill="#04073d"/><ellipse cx="722" cy="115" rx="30" ry="22" fill="#1726ff"/><ellipse cx="975" cy="165" rx="45" ry="50" fill="#04073d"/><ellipse cx="990" cy="170" rx="20" ry="25" fill="#1726ff"/><ellipse cx="710" cy="260" rx="60" ry="55" fill="#080d7a"/><ellipse cx="715" cy="268" rx="38" ry="34.2" fill="#000"/><ellipse cx="700" cy="225" rx="30" ry="14" transform="rotate(-15 700 225)" fill="#1623ff"/><ellipse cx="150" cy="270" rx="35" ry="52" fill="#060a5c"/><ellipse cx="405" cy="355" rx="120" ry="25" transform="rotate(15 405 355)" fill="#080d7a"/><ellipse cx="385" cy="350" rx="46.8" ry="13" transform="rotate(15 385 350)" fill="#000"/><ellipse cx="432" cy="357" rx="28" ry="14" transform="rotate(15 432 357)" fill="#1a2aff"/><ellipse cx="15" cy="450" rx="20" ry="25" fill="#0a0f8f"/><ellipse cx="735" cy="500" rx="50" ry="90" fill="#060a5c"/><ellipse cx="725" cy="500" rx="36.8" ry="68" fill="#000"/><ellipse cx="762" cy="500" rx="13" ry="42" fill="#101bf5"/><ellipse cx="860" cy="490" rx="50" ry="100" fill="#04073d"/><ellipse cx="850" cy="540" rx="34.2" ry="46.8" fill="#000"/><ellipse cx="862" cy="480" rx="30" ry="26" fill="#1a2aff"/><ellipse cx="585" cy="585" rx="30" ry="135" transform="rotate(-8 585 585)" fill="#080d7a"/><ellipse cx="592" cy="612" rx="16.8" ry="50.5" transform="rotate(-8 592 612)" fill="#000"/><ellipse cx="576" cy="545" rx="17" ry="42" transform="rotate(-8 576 545)" fill="#1a2aff"/><ellipse cx="115" cy="560" rx="45" ry="50" fill="#04073d"/><ellipse cx="122" cy="570" rx="24" ry="20" fill="#1828ff"/><ellipse cx="145" cy="730" rx="52" ry="50" fill="#060a5c"/><ellipse cx="150" cy="745" rx="33" ry="25.5" fill="#000"/><ellipse cx="135" cy="714" rx="24" ry="16" fill="#1828ff"/><ellipse cx="285" cy="800" rx="52" ry="42" fill="#060a5c"/><ellipse cx="300" cy="810" rx="28" ry="20.5" fill="#000"/><ellipse cx="278" cy="794" rx="26" ry="20" fill="#1a2aff"/><ellipse cx="790" cy="775" rx="65" ry="65" fill="#080d7a"/><ellipse cx="785" cy="780" rx="43" ry="43" fill="#000"/><ellipse cx="985" cy="770" rx="58" ry="40" fill="#060a5c"/><ellipse cx="955" cy="775" rx="21.8" ry="18" fill="#000"/><ellipse cx="996" cy="770" rx="26" ry="20" fill="#1a2aff"/><ellipse cx="610" cy="820" rx="150" ry="22" transform="rotate(42 610 820)" fill="#080d7a"/><ellipse cx="590" cy="800" rx="53" ry="11.8" transform="rotate(42 590 800)" fill="#000"/><ellipse cx="125" cy="915" rx="28" ry="28" fill="#0c14b8"/><ellipse cx="520" cy="940" rx="60" ry="46" fill="#060a5c"/><ellipse cx="495" cy="925" rx="25.5" ry="20.5" fill="#000"/><ellipse cx="525" cy="942" rx="30" ry="28" fill="#1a2aff"/><ellipse cx="350" cy="970" rx="40" ry="52" fill="#070b66"/><ellipse cx="350" cy="960" rx="16" ry="30" fill="#1828ff"/><ellipse cx="30" cy="1030" rx="35" ry="25" fill="#080d7a"/><ellipse cx="240" cy="1035" rx="40" ry="20" fill="#070b66"/></g><path d="M530 470L655 650" stroke="#f0e628" stroke-width="7.6" fill="none"/></svg><div class="bar" style="left:32.7px;top:277.3px;width:69.6px"></div><div class="lab" style="left:14.5px;top:2px">c<sub>3</sub></div></div>
<div class="panel" style="left:1014.1px;top:58.8px;width:307.7px;height:306.8px"><svg viewBox="0 0 308 308" preserveAspectRatio="none" font-family="'Liberation Sans', sans-serif"><defs><linearGradient id="fg1" gradientUnits="userSpaceOnUse" x1="-4" y1="310" x2="101.7" y2="-59.8"><stop offset="0.000" stop-color="#fffbd0"/><stop offset="0.025" stop-color="#fff040"/><stop offset="0.055" stop-color="#ffc418"/><stop offset="0.090" stop-color="#f87422"/><stop offset="0.130" stop-color="#e23c4c"/><stop offset="0.180" stop-color="#c02284"/><stop offset="0.245" stop-color="#8a1ea0"/><stop offset="0.312" stop-color="#5c1a98"/><stop offset="0.412" stop-color="#3c1688"/><stop offset="0.525" stop-color="#2a1270"/><stop offset="0.650" stop-color="#1e0e58"/><stop offset="0.800" stop-color="#160b44"/><stop offset="1.000" stop-color="#0c0728"/></linearGradient><radialGradient id="gl1" gradientUnits="userSpaceOnUse" cx="0" cy="0" r="1" gradientTransform="translate(0 308) scale(80 22)"><stop offset="0" stop-color="#fffbd0"/><stop offset="0.3" stop-color="#fff040" stop-opacity="0.95"/><stop offset="0.6" stop-color="#ffc018" stop-opacity="0.7"/><stop offset="1" stop-color="#ff8a14" stop-opacity="0"/></radialGradient><filter id="gn1" x="0" y="0" width="100%" height="100%" color-interpolation-filters="sRGB"><feTurbulence type="fractalNoise" baseFrequency="0.45" numOctaves="2" seed="4"/><feColorMatrix type="matrix" values="0 0 0 0 0  0 0 0 0 0  0 0 0 0 0.02  1.0 0 0 0 -0.33"/></filter></defs><rect width="308" height="308" fill="url(#fg1)"/><rect width="308" height="308" filter="url(#gn1)"/><rect width="308" height="308" fill="url(#gl1)"/><path d="M5.5 0V308M14.6 0V308M23.6 0V308M32.7 0V308M41.8 0V308M50.9 0V308M59.9 0V308M69 0V308M78.1 0V308M87.1 0V308M96.2 0V308M105.3 0V308M114.3 0V308M123.4 0V308M132.5 0V308M141.5 0V308M150.6 0V308M159.7 0V308M168.8 0V308M177.8 0V308M186.9 0V308M196 0V308M205 0V308M214.1 0V308M223.2 0V308M232.2 0V308M241.3 0V308M250.4 0V308M259.5 0V308M268.5 0V308M277.6 0V308M286.7 0V308M295.7 0V308" stroke="#000" stroke-opacity="0.42" stroke-width="1.6" fill="none"/><path d="M0 285H308M0 242.6H308" stroke="#000" stroke-opacity="0.6" stroke-width="1.4" fill="none"/><path d="M0 199.6H308M0 156.5H308" stroke="#000" stroke-opacity="0.3" stroke-width="1.2" fill="none"/><path d="M17.6 0V308" stroke="#fff" stroke-opacity="0.8" stroke-width="1.6" fill="none"/><path d="M0 297.6H308" stroke="#fff" stroke-opacity="0.7" stroke-width="1.4" fill="none"/><path d="M17.6 297.6L308 33.5" stroke="#fff" stroke-opacity="0.75" stroke-width="1.1" fill="none"/><text x="10.2" y="54.6" font-size="64.5" fill="#fff">d<tspan font-size="29.5" dx="1.5" dy="-1.5">1</tspan></text><text x="102" y="37.6" font-size="32.5" fill="#fff" textLength="139" lengthAdjust="spacingAndGlyphs">PCC:0.44</text><text x="102" y="94.3" font-size="32.5" fill="#fff" textLength="139" lengthAdjust="spacingAndGlyphs">OLC:0.46</text></svg></div>
<div class="panel" style="left:1014.1px;top:389.8px;width:307.7px;height:308.4px"><svg viewBox="0 0 308 308" preserveAspectRatio="none" font-family="'Liberation Sans', sans-serif"><defs><linearGradient id="fg2" gradientUnits="userSpaceOnUse" x1="10" y1="301" x2="94.7" y2="-80.2"><stop offset="0.000" stop-color="#fffbd0"/><stop offset="0.022" stop-color="#fff040"/><stop offset="0.045" stop-color="#ffb018"/><stop offset="0.070" stop-color="#f8741e"/><stop offset="0.100" stop-color="#e23c3c"/><stop offset="0.138" stop-color="#c42280"/><stop offset="0.195" stop-color="#8a20b0"/><stop offset="0.275" stop-color="#5a1aa0"/><stop offset="0.375" stop-color="#3a1690"/><stop offset="0.500" stop-color="#281278"/><stop offset="0.650" stop-color="#1e0e60"/><stop offset="0.800" stop-color="#140a44"/><stop offset="1.000" stop-color="#0a0520"/></linearGradient><radialGradient id="gl2" gradientUnits="userSpaceOnUse" cx="0" cy="0" r="1" gradientTransform="translate(13 300) scale(105 20)"><stop offset="0" stop-color="#fffbd0"/><stop offset="0.3" stop-color="#fff040" stop-opacity="0.95"/><stop offset="0.6" stop-color="#ffc018" stop-opacity="0.7"/><stop offset="1" stop-color="#ff8a14" stop-opacity="0"/></radialGradient><filter id="gn2" x="0" y="0" width="100%" height="100%" color-interpolation-filters="sRGB"><feTurbulence type="fractalNoise" baseFrequency="0.45" numOctaves="2" seed="9"/><feColorMatrix type="matrix" values="0 0 0 0 0  0 0 0 0 0  0 0 0 0 0.02  1.0 0 0 0 -0.33"/></filter></defs><rect width="308" height="308" fill="url(#fg2)"/><rect width="308" height="308" filter="url(#gn2)"/><rect width="308" height="308" fill="url(#gl2)"/><rect x="0" y="0" width="12.8" height="308" fill="#000"/><rect x="0" y="299.5" width="308" height="9" fill="#000"/><path d="M13.6 0V308" stroke="#fff" stroke-opacity="0.85" stroke-width="1.5" fill="none"/><path d="M13.6 266.5H150" stroke="#ff9a40" stroke-opacity="0.35" stroke-width="1.2" fill="none"/><path d="M13.6 306L266 0" stroke="#fff" stroke-opacity="0.7" stroke-width="1.1" fill="none"/><text x="10.2" y="54" font-size="64.5" fill="#fff">d<tspan font-size="29.5" dx="1.5" dy="-1.5">2</tspan></text><text x="102" y="37.6" font-size="32.5" fill="#fff" textLength="139" lengthAdjust="spacingAndGlyphs">PCC:0.58</text><text x="102" y="95" font-size="32.5" fill="#fff" textLength="139" lengthAdjust="spacingAndGlyphs">OLC:0.59</text></svg></div>
<div class="panel" style="left:1014.1px;top:719.6px;width:307.7px;height:309px"><svg viewBox="0 0 308 308" preserveAspectRatio="none" font-family="'Liberation Sans', sans-serif"><defs><radialGradient id="c3a" gradientUnits="userSpaceOnUse" cx="0" cy="0" r="1" gradientTransform="translate(8 308) rotate(-44.0) translate(185 0) scale(225 64)"><stop offset="0" stop-color="#6a1ab4" stop-opacity="0.9"/><stop offset="0.35" stop-color="#5618a8" stop-opacity="0.8"/><stop offset="0.7" stop-color="#34107e" stop-opacity="0.45"/><stop offset="1" stop-color="#1a0850" stop-opacity="0"/></radialGradient><radialGradient id="c3b" gradientUnits="userSpaceOnUse" cx="0" cy="0" r="1" gradientTransform="translate(8 308) rotate(-44.0) translate(135 0) scale(180 46)"><stop offset="0" stop-color="#a020c0" stop-opacity="1"/><stop offset="0.4" stop-color="#8a1cbc" stop-opacity="0.9"/><stop offset="0.75" stop-color="#6018ac" stop-opacity="0.5"/><stop offset="1" stop-color="#4a14a0" stop-opacity="0"/></radialGradient><radialGradient id="c3c" gradientUnits="userSpaceOnUse" cx="0" cy="0" r="1" gradientTransform="translate(8 308) rotate(-44.0) translate(95 0) scale(135 36)"><stop offset="0" stop-color="#e02c58" stop-opacity="1"/><stop offset="0.4" stop-color="#d02474" stop-opacity="0.95"/><stop offset="0.75" stop-color="#b01ea4" stop-opacity="0.55"/><stop offset="1" stop-color="#9a1cc0" stop-opacity="0"/></radialGradient><radialGradient id="c3d" gradientUnits="userSpaceOnUse" cx="0" cy="0" r="1" gradientTransform="translate(8 308) rotate(-44.0) translate(58 0) scale(98 25)"><stop offset="0" stop-color="#ff7a14" stop-opacity="1"/><stop offset="0.45" stop-color="#f85a20" stop-opacity="0.95"/><stop offset="0.8" stop-color="#e83440" stop-opacity="0.55"/><stop offset="1" stop-color="#e02c58" stop-opacity="0"/></radialGradient><radialGradient id="c3e" gradientUnits="userSpaceOnUse" cx="0" cy="0" r="1" gradientTransform="translate(8 308) rotate(-44.0) translate(20 0) scale(58 17)"><stop offset="0" stop-color="#fff9c8" stop-opacity="1"/><stop offset="0.3" stop-color="#fff040" stop-opacity="1"/><stop offset="0.65" stop-color="#ffc010" stop-opacity="0.85"/><stop offset="1" stop-color="#ff8a14" stop-opacity="0"/></radialGradient><filter id="gn3" x="0" y="0" width="100%" height="100%" color-interpolation-filters="sRGB"><feTurbulence type="fractalNoise" baseFrequency="0.55" numOctaves="2" seed="14"/><feColorMatrix type="matrix" values="0 0 0 0 0  0 0 0 0 0  0 0 0 0 0.02  1.0 0 0 0 -0.38"/></filter></defs><rect width="308" height="308" fill="#000"/><rect width="308" height="308" fill="url(#c3a)"/><rect width="308" height="308" fill="url(#c3b)"/><rect width="308" height="308" fill="url(#c3c)"/><rect width="308" height="308" filter="url(#gn3)"/><rect width="308" height="308" fill="url(#c3d)"/><rect width="308" height="308" fill="url(#c3e)"/><path d="M7.6 0V308" stroke="#fff" stroke-opacity="0.75" stroke-width="1.5" fill="none"/><path d="M0 306.6H308" stroke="#fff" stroke-opacity="0.55" stroke-width="1.3" fill="none"/><path d="M7.6 306.6L308 31.8" stroke="#fff" stroke-opacity="0.8" stroke-width="1.1" fill="none"/><text x="10.2" y="54" font-size="64.5" fill="#fff">d<tspan font-size="29.5" dx="1.5" dy="-1.5">3</tspan></text><text x="102" y="43.4" font-size="32.5" fill="#fff" textLength="139" lengthAdjust="spacingAndGlyphs">PCC:0.86</text><text x="102" y="102.4" font-size="32.5" fill="#fff" textLength="139" lengthAdjust="spacingAndGlyphs">OLC:0.86</text></svg></div>
<svg style="position:absolute;left:0;top:0" width="1753" height="1047" viewBox="0 0 1753 1047" font-family="'Liberation Sans', sans-serif" fill="#111">
<g>
<path d="M1427.4 290.3L1467.2 290.3L1472.1 289.6L1479.6 290.3L1494.5 290.3L1498.2 285.8L1500.7 268.5L1502.4 261L1504.4 261L1506.1 273.4L1508.1 285.8L1510.6 283.4L1513.1 275.9L1515.6 273.4L1517.3 266L1518.8 251.1L1520.5 261L1522.3 263.5L1524.3 268.5L1526.3 280.9L1528 287.1L1529.7 280.9L1531.2 285.8L1533 273.4L1534.7 266L1536.7 269.7L1538.7 256.1L1540.4 236.2L1542.1 213.9L1544.1 212.6L1546.1 211.4L1547.9 223.8L1549.1 237.4L1551.1 231.2L1552.8 238.7L1554.6 211.4L1556 223.8L1557.8 236.2L1559.5 235L1561 238.7L1562.8 218.8L1564 223.8L1566 233.7L1567.7 238.7L1569.5 228.7L1571.4 208.9L1573.4 186.5L1575.2 223.8L1576.9 253.6L1578.1 263.5L1579.6 223.8L1581.4 186.5L1582.6 185.3L1584.3 203.9L1585.8 223.8L1587.6 243.6L1588.8 241.2L1590.3 248.6L1591.8 263.5L1593.3 248.6L1595 228.7L1596.8 236.2L1598.3 233.7L1600 228.7L1601.7 238.7L1603.7 261L1605.7 263.5L1607.4 243.6L1609.2 216.3L1610.7 243.6L1612.4 271L1613.6 261L1615.1 221.3L1616.6 223.8L1618.1 243.6L1619.9 228.7L1621.6 236.2L1623.6 241.2L1625.1 228.7L1626.6 238.7L1628 246.1L1629.8 261L1631.5 246.1L1633 248.6L1634.7 273.4L1636.5 277.2L1638.5 261L1640.5 275.9L1642.2 256.1L1644.2 248.6L1645.9 261L1647.2 238.7L1648.9 228.7L1650.9 233.7L1652.9 218.8L1654.6 223.8L1655.8 199L1657.8 184.1L1659.1 180.3L1660.8 191.5L1662.8 223.8L1664.5 261L1666.3 273.4L1668.3 289.6L1670.2 290.8L1672 273.4L1673.7 253.6L1675.7 243.6L1677.4 221.3L1678.9 243.6L1680.7 283.4L1682.7 290.8L1684.4 273.4L1686.1 283.4L1688.1 290.8L1690.1 273.4L1691.8 268.5L1693.6 280.9L1695.6 261L1697.6 253.6L1699.3 266L1701 273.4L1703 231.2L1704.8 206.4L1706.2 236.2L1708 261L1710 278.4L1711.7 268.5L1713.4 251.1L1715.4 273.4L1717.2 278.4L1719.2 258.5L1720.9 273.4L1722.4 290.3L1727.8 289.6" fill="none" stroke="#3edb3e" stroke-width="2.2" stroke-linejoin="round"/>
<path d="M1427.4 290.3L1467.2 290.3L1470.9 288.3L1475.1 284.6L1477.6 289.6L1483.3 287.1L1487 289.6L1494.5 290.3L1499.4 289.6L1503.2 285.8L1505.7 289.6L1509.4 284.6L1513.1 283.4L1516.3 273.4L1518.1 223.8L1519.8 169.2L1521 142.4L1523 154.3L1524.8 199L1526.8 248.6L1529.2 277.2L1531.2 273.4L1533.7 248.6L1536.2 211.4L1538.7 179.1L1540.4 164.2L1542.9 151.8L1545.4 135.7L1546.6 134.4L1548.4 149.3L1549.8 158L1551.6 154.3L1554.1 141.9L1556 134.4L1557.3 144.3L1559 174.1L1560.5 203.9L1562 211.4L1563.5 199L1565.2 169.2L1567 144.3L1568.2 135.7L1569.7 154.3L1571.4 136.9L1573.9 134.4L1577.6 134.4L1580.1 138.1L1581.9 134.4L1583.9 141.9L1586.3 149.3L1587.8 166.7L1589.3 199L1590.8 211.4L1592.5 196.5L1593.8 195.2L1595.3 208.9L1596.8 223.8L1598.3 235L1600 231.2L1601.7 228.7L1603.7 233.7L1605.7 248.6L1607.4 256.1L1609.2 241.2L1611.2 221.3L1612.7 199L1614.1 169.2L1615.1 155.5L1616.6 159.2L1618.1 174.1L1619.4 191.5L1621.1 192.8L1622.6 174.1L1623.6 157.2L1625.1 161.7L1626.6 189L1628 236.2L1629.8 261L1632.3 268.5L1634.7 275.9L1637.2 268.5L1639.7 256.1L1642.2 246.1L1644.2 241.2L1645.9 256.1L1647.2 273.4L1649.6 279.6L1653.4 279.6L1655.8 271L1658.3 261L1660.3 258.5L1662.8 263.5L1664.5 273.4L1667 280.9L1670.7 282.1L1673.2 279.6L1675.7 280.9L1678.2 284.6L1680.7 283.4L1683.2 273.4L1685.6 268.5L1687.6 271L1689.4 278.4L1691.8 283.4L1694.3 271L1696.1 278.4L1698.1 284.6L1700.5 285.8L1703 280.9L1705 275.9L1707.5 283.4L1710.5 288.3L1714.2 290.3L1717.9 289.6L1721.6 288.3L1727.8 289.6" fill="none" stroke="#dc1a1a" stroke-width="2.2" stroke-linejoin="round"/>
<rect x="1427.8" y="58.3" width="300.4" height="247.2" fill="none" stroke="#000" stroke-width="2.3"/>
<path d="M1426.8 290.4h-5M1426.8 275.1h-3M1426.8 259.8h-5M1426.8 244.5h-3M1426.8 229.2h-5M1426.8 213.9h-3M1426.8 198.6h-5M1426.8 183.3h-3M1426.8 168h-5M1426.8 152.7h-3M1426.8 137.4h-5M1426.8 122.1h-3M1426.8 106.8h-5M1426.8 91.5h-3M1426.8 76.2h-5M1426.8 60.9h-3M1427.8 306.5v5M1465.3 306.5v3M1502.9 306.5v5M1540.5 306.5v3M1578 306.5v5M1615.5 306.5v3M1653.1 306.5v5M1690.7 306.5v3M1728.2 306.5v5" stroke="#000" stroke-width="1.8" fill="none"/>
<text x="1419.2" y="298" font-size="22" text-anchor="end" transform="translate(1419.2 0) scale(0.85 1) translate(-1419.2 0)">0</text>
<text x="1419.2" y="267.4" font-size="22" text-anchor="end" transform="translate(1419.2 0) scale(0.85 1) translate(-1419.2 0)">50</text>
<text x="1419.2" y="236.8" font-size="22" text-anchor="end" transform="translate(1419.2 0) scale(0.85 1) translate(-1419.2 0)">100</text>
<text x="1419.2" y="206.2" font-size="22" text-anchor="end" transform="translate(1419.2 0) scale(0.85 1) translate(-1419.2 0)">150</text>
<text x="1419.2" y="175.6" font-size="22" text-anchor="end" transform="translate(1419.2 0) scale(0.85 1) translate(-1419.2 0)">200</text>
<text x="1419.2" y="145" font-size="22" text-anchor="end" transform="translate(1419.2 0) scale(0.85 1) translate(-1419.2 0)">250</text>
<text x="1419.2" y="114.4" font-size="22" text-anchor="end" transform="translate(1419.2 0) scale(0.85 1) translate(-1419.2 0)">300</text>
<text x="1419.2" y="83.8" font-size="22" text-anchor="end" transform="translate(1419.2 0) scale(0.85 1) translate(-1419.2 0)">350</text>
<text x="1428.1" y="330.3" font-size="21.5" text-anchor="middle" transform="translate(1428.1 0) scale(0.87 1) translate(-1428.1 0)">0.0</text>
<text x="1503.2" y="330.3" font-size="21.5" text-anchor="middle" transform="translate(1503.2 0) scale(0.87 1) translate(-1503.2 0)">0.5</text>
<text x="1578.3" y="330.3" font-size="21.5" text-anchor="middle" transform="translate(1578.3 0) scale(0.87 1) translate(-1578.3 0)">1.0</text>
<text x="1653.4" y="330.3" font-size="21.5" text-anchor="middle" transform="translate(1653.4 0) scale(0.87 1) translate(-1653.4 0)">1.5</text>
<text x="1728.5" y="330.3" font-size="21.5" text-anchor="middle" transform="translate(1728.5 0) scale(0.87 1) translate(-1728.5 0)">2.0</text>
<text x="1503.9" y="358.4" font-size="24.5" textLength="146.5" lengthAdjust="spacingAndGlyphs">Distance / μm</text>
<text x="-67.5" y="0" font-size="25.3" textLength="135" lengthAdjust="spacingAndGlyphs" transform="translate(1378.2 184.9) rotate(-90)">FL Intensity</text>
<path d="M1431 76.2h58" stroke="#3edb3e" stroke-width="2.5" fill="none"/>
<path d="M1431 110.2h58" stroke="#dc1a1a" stroke-width="2.5" fill="none"/>
<text x="1494.3" y="85" font-size="24.5" textLength="95" lengthAdjust="spacingAndGlyphs">C-dots-1</text>
<text x="1494.3" y="119" font-size="24.5" textLength="184" lengthAdjust="spacingAndGlyphs">Lysotracker Red</text>
<text x="1325.2" y="101" font-size="65.5" fill="#000">e<tspan font-size="28" dx="1.5" dy="-2.2">1</tspan></text>
</g>
<g>
<path d="M1427.4 606L1428.9 607.2L1430.4 619.6L1432.4 620.8L1434.9 619.6L1437.4 618.4L1439.4 619.6L1441.4 617.1L1443.1 608.4L1444.8 607.2L1446.6 615.9L1448.6 619.6L1451 618.4L1453 608.4L1454.8 602.2L1456.5 601L1458 608.4L1459.7 607.2L1461.5 598.5L1463.4 591.1L1465.2 588.6L1467.2 588.6L1469.2 592.3L1470.9 598.5L1472.6 607.2L1474.6 609.7L1476.6 613.4L1478.3 619.6L1480.1 617.1L1482.1 607.2L1483.8 598.5L1485.3 594.8L1487 601L1488.8 610.9L1490.8 615.9L1493.2 617.1L1495.7 614.6L1498.2 618.4L1500.7 614.6L1503.2 618.4L1505.7 613.4L1507.4 606L1508.9 602.2L1510.6 610.9L1512.4 612.2L1514.3 606L1516.3 591.1L1518.1 586.1L1520 581.1L1521.8 588.6L1523.8 598.5L1525.5 607.2L1527.2 601L1529.2 603.5L1531.2 606L1533 603.5L1534.7 596L1536.2 591.1L1537.9 601L1539.7 606L1541.6 608.4L1543.4 613.4L1545.4 619.6L1547.1 617.1L1549.1 613.4L1551.1 617.1L1552.8 608.4L1554.6 593.5L1556 581.1L1557.8 578.6L1559.5 588.6L1561.5 586.1L1563.2 591.1L1565.2 598.5L1567 601L1569 601L1570.9 583.6L1572.7 558.8L1574.4 556.3L1576.4 557.5L1578.1 573.7L1579.6 563.7L1580.9 558.8L1582.1 581.1L1583.9 606L1585.6 596L1587.1 604.7L1588.8 596L1590.3 606L1591.8 594.8L1593.3 606L1595 598.5L1596.8 592.3L1598.3 603.5L1600 596L1601.7 603.5L1603.2 609.7L1605 598.5L1606.7 583.6L1608.2 591.1L1609.9 586.1L1611.7 593.5L1613.6 583.6L1615.4 588.6L1617.4 593.5L1619.1 596L1621.1 599.7L1623.1 598.5L1624.8 591.1L1626.6 573.7L1628.5 558.8L1630.3 555.8L1632.3 558.8L1634 566.2L1636 576.2L1637.7 588.6L1639.7 596L1641.4 594.8L1643.4 596L1645.2 603.5L1647.2 609.7L1648.9 612.2L1650.9 615.9L1652.9 608.4L1654.6 597.3L1656.3 596L1657.8 601L1659.6 597.3L1661.3 606L1663.3 619.6L1665.3 618.4L1667 615.9L1669.5 612.2L1672 612.2L1673.7 618.4L1675.7 620.8L1679.4 620.8L1683.2 619.6L1685.6 615.9L1687.6 617.1L1689.4 619.6L1691.8 618.4L1693.6 608.4L1695.1 604.7L1696.6 618.4L1698.6 620.8L1700.5 619.6L1702.3 610.9L1703.8 610.9L1705.5 620.8L1709.2 620.8L1728.6 620.8" fill="none" stroke="#3edb3e" stroke-width="2.2" stroke-linejoin="round"/>
<path d="M1427.4 623.3L1434.9 623.8L1442.3 622.1L1449.8 622.8L1457.2 622.1L1464.7 620.8L1472.1 622.8L1479.6 620.8L1487 622.8L1494.5 620.8L1501.9 620.4L1509.4 619.6L1513.8 617.1L1515.6 603.5L1517.3 578.6L1518.8 563.7L1520.5 576.2L1522.3 588.6L1524.3 598.5L1526.3 591.1L1528 587.3L1529.7 568.7L1531.7 543.9L1533.7 524L1535.4 516.6L1537.2 520.3L1539.2 538.9L1541.2 556.3L1542.9 566.2L1544.6 568.7L1546.1 558.8L1547.9 534L1549.6 531.5L1551.6 529L1554.1 527.8L1556 516.6L1558.3 505.9L1559.8 524L1561 536.4L1562.5 529L1564 546.4L1565.5 563.7L1567 566.2L1568.5 567.5L1570 534L1571.4 496.7L1572.9 466.9L1573.9 458.2L1575.2 484.3L1576.4 524L1577.9 563.7L1579.4 603.5L1580.9 603.5L1582.6 578.6L1584.3 553.8L1585.8 534L1587.6 519.1L1588.8 517.8L1589.8 543.9L1590.8 577.4L1591.8 558.8L1592.8 546.4L1593.8 578.6L1595 571.2L1596.3 553.8L1597.8 543.9L1598.7 543.9L1600.2 558.8L1601.7 578.6L1603 588.6L1604.2 558.8L1605.5 529L1606.7 516.6L1607.9 515.3L1609.9 521.5L1612.4 525.3L1614.9 526.5L1616.6 534L1618.6 548.9L1620.1 560L1621.6 551.3L1623.1 543.9L1624.6 542.6L1626.1 553.8L1627.5 566.2L1629 576.2L1631 583.6L1633 591.1L1635 601L1636.5 593.5L1638 581.1L1639.5 591.1L1641 603.5L1643.4 609.7L1647.2 612.2L1650.9 615.9L1654.6 617.1L1658.3 615.9L1662.1 613.4L1664.5 611.4L1667 613.4L1670.7 615.9L1673.2 618.4L1677 620.8L1680.7 622.1L1688.1 622.6L1695.6 622.1L1703 622.8L1717.9 623.3L1728.6 623.3" fill="none" stroke="#dc1a1a" stroke-width="2.2" stroke-linejoin="round"/>
<rect x="1426.8" y="390.6" width="302.1" height="249.7" fill="none" stroke="#000" stroke-width="2.3"/>
<path d="M1425.8 626h-5M1425.8 604.1h-3M1425.8 582.1h-5M1425.8 560.2h-3M1425.8 538.2h-5M1425.8 516.3h-3M1425.8 494.4h-5M1425.8 472.4h-3M1425.8 450.5h-5M1425.8 428.5h-3M1425.8 406.6h-5M1426.8 641.3v5M1464.6 641.3v3M1502.3 641.3v5M1540.1 641.3v3M1577.8 641.3v5M1615.6 641.3v3M1653.4 641.3v5M1691.1 641.3v3M1728.9 641.3v5" stroke="#000" stroke-width="1.8" fill="none"/>
<text x="1418.2" y="632.5" font-size="22" text-anchor="end" transform="translate(1418.2 0) scale(0.85 1) translate(-1418.2 0)">0</text>
<text x="1418.2" y="588.6" font-size="22" text-anchor="end" transform="translate(1418.2 0) scale(0.85 1) translate(-1418.2 0)">80</text>
<text x="1418.2" y="544.7" font-size="22" text-anchor="end" transform="translate(1418.2 0) scale(0.85 1) translate(-1418.2 0)">160</text>
<text x="1418.2" y="500.9" font-size="22" text-anchor="end" transform="translate(1418.2 0) scale(0.85 1) translate(-1418.2 0)">240</text>
<text x="1418.2" y="457" font-size="22" text-anchor="end" transform="translate(1418.2 0) scale(0.85 1) translate(-1418.2 0)">320</text>
<text x="1418.2" y="413.1" font-size="22" text-anchor="end" transform="translate(1418.2 0) scale(0.85 1) translate(-1418.2 0)">400</text>
<text x="1427.1" y="665" font-size="21.5" text-anchor="middle" transform="translate(1427.1 0) scale(0.87 1) translate(-1427.1 0)">0.0</text>
<text x="1502.6" y="665" font-size="21.5" text-anchor="middle" transform="translate(1502.6 0) scale(0.87 1) translate(-1502.6 0)">0.5</text>
<text x="1578.1" y="665" font-size="21.5" text-anchor="middle" transform="translate(1578.1 0) scale(0.87 1) translate(-1578.1 0)">1.0</text>
<text x="1653.7" y="665" font-size="21.5" text-anchor="middle" transform="translate(1653.7 0) scale(0.87 1) translate(-1653.7 0)">1.5</text>
<text x="1729.2" y="665" font-size="21.5" text-anchor="middle" transform="translate(1729.2 0) scale(0.87 1) translate(-1729.2 0)">2.0</text>
<text x="1511.9" y="692.4" font-size="24.5" textLength="146.5" lengthAdjust="spacingAndGlyphs">Distance / μm</text>
<text x="-67.5" y="0" font-size="25.3" textLength="135" lengthAdjust="spacingAndGlyphs" transform="translate(1378.2 518.5) rotate(-90)">FL Intensity</text>
<path d="M1427.8 411.7h58" stroke="#3edb3e" stroke-width="2.5" fill="none"/>
<path d="M1427.8 446.1h58" stroke="#dc1a1a" stroke-width="2.5" fill="none"/>
<text x="1491.6" y="420.5" font-size="24.5" textLength="95" lengthAdjust="spacingAndGlyphs">C-dots-1</text>
<text x="1491.6" y="454.9" font-size="24.5" textLength="178" lengthAdjust="spacingAndGlyphs">Mitotracker Red</text>
<text x="1325.2" y="433.4" font-size="65.5" fill="#000">e<tspan font-size="30.5" dx="0.5" dy="-0.5">2</tspan></text>
</g>
<g>
<path d="M1427.4 951.6L1431.2 950.4L1434.9 951.6L1469.7 951.6L1471.4 947.9L1473.9 944.6L1476.4 948.4L1479.6 947.9L1482.1 942.2L1484.1 934.7L1486 927.3L1487.8 925.5L1489.5 927.3L1491.5 922.3L1493.5 913.6L1495.2 906.2L1497 897.5L1498.9 893.7L1500.7 888.8L1502.4 876.4L1504.4 854L1506.1 834.2L1507.6 819.3L1508.9 814.3L1510.1 819.3L1511.4 834.2L1513.1 839.1L1514.8 856.5L1516.3 868.9L1517.8 873.9L1519.3 856.5L1520.8 846.6L1522.3 855.3L1523.8 866.4L1525.3 868.9L1526.8 861.5L1528.5 859L1530 860.2L1531.7 876.4L1533.2 891.3L1534.9 901.2L1536.7 883.8L1538.4 859L1540.4 836.6L1542.1 827.2L1544.1 826.7L1545.6 827.2L1547.1 844.1L1548.6 868.9L1550.3 893.7L1552.1 908.6L1553.6 888.8L1555.3 864L1557 844.1L1558 837.9L1559.5 849.1L1561 864L1562.8 873.9L1564.5 866.4L1566.5 861.5L1568.2 864L1569.7 876.4L1570.9 896.2L1572.4 916.1L1573.9 931L1575.4 939.7L1577.1 944.6L1580.1 945.9L1582.6 948.4L1585.1 948.4L1587.6 943.4L1590.1 939.7L1592.5 938.4L1595 934.7L1597.5 928.5L1599.2 923.5L1601.2 911.1L1603.2 898.7L1605 888.8L1606.7 883.8L1608.7 876.4L1610.7 869.4L1612.4 876.4L1614.1 893.7L1616.1 904.9L1617.9 908.6L1619.9 909.9L1621.6 904.9L1623.6 896.2L1625.6 891.3L1627.3 898.7L1628.5 903.7L1630.3 892.5L1632.3 886.3L1634 883.8L1636 881.3L1637.7 876.4L1639.7 873.9L1641.4 876.4L1643.4 873.9L1645.4 868.9L1647.2 864L1648.9 861.5L1650.9 868.9L1652.6 873.9L1654.6 870.2L1655.8 866.4L1657.1 878.9L1658.8 891.3L1660.3 873.9L1662.1 854L1663.8 834.2L1665.3 824.2L1666.8 822.2L1668.3 831.7L1669.5 819.3L1670.7 804.4L1671.7 799.4L1672.7 804.4L1673.7 804.4L1675 821.8L1676.2 849.1L1677.7 883.8L1679.2 911.1L1680.7 918.6L1682.2 924.8L1683.7 934.7L1685.1 943.4L1686.9 949.6L1689.4 944.6L1691.1 942.9L1693.1 948.4L1695.6 949.6L1698.1 946.4L1700 948.4L1701.3 950.8" fill="none" stroke="#3edb3e" stroke-width="2.2" stroke-linejoin="round"/>
<path d="M1427.4 952.1L1469.7 952.1L1475.9 950.8L1479.6 948.4L1482.1 943.4L1484.1 936L1486 928.5L1487.8 926L1489.5 928.5L1491.5 923.5L1493.5 916.1L1495.2 908.6L1497 900L1498.9 903.7L1500.7 896.2L1502.4 883.8L1504.4 864L1506.1 839.1L1507.6 821.8L1508.9 810.6L1510.1 807.6L1511.4 816.8L1513.1 834.2L1514.8 854L1516.3 866.4L1517.8 872.6L1519.3 854L1520.8 844.1L1522.3 854L1523.8 868.9L1525.3 875.1L1526.8 870.2L1528.5 864L1530 868.9L1531.7 883.8L1533.2 893.7L1534.9 902.4L1536.7 893.7L1538.4 878.9L1540.4 861.5L1542.1 854L1544.1 851.5L1545.6 851L1547.1 864L1548.6 878.9L1550.3 893.7L1552.1 904.9L1553.6 898.7L1555.3 886.3L1557 876.4L1559 878.9L1561 880.1L1562.8 876.4L1564.5 864L1566.5 855.3L1568.2 854L1569.7 868.9L1570.9 893.7L1572.4 913.6L1573.9 931L1575.4 942.2L1577.1 947.1L1580.1 948.4L1582.6 947.9L1585.1 949.6L1587.6 948.4L1590.1 945.9L1592.5 943.4L1595 938.4L1597.5 933.5L1599.2 928.5L1601.2 913.6L1603.2 901.2L1605 891.3L1606.7 888.8L1608.7 890L1610.7 891.3L1612.4 888.8L1614.1 896.2L1616.1 903.7L1617.9 906.2L1619.9 906.7L1621.6 903.7L1623.6 897.5L1625.6 895L1627.3 901.2L1628.5 906.2L1630.3 893.7L1632.3 886.3L1634 881.3L1636 873.9L1637.7 866.4L1639.7 873.9L1641.4 880.1L1643.4 878.9L1645.4 876.4L1647.2 873.9L1648.9 870.2L1650.9 878.9L1652.6 880.1L1654.6 868.9L1655.8 862.7L1657.1 873.9L1658.8 887.5L1660.3 876.4L1662.1 861.5L1663.8 846.6L1665.3 836.6L1666.8 839.1L1668.3 834.2L1669.5 819.3L1670.7 801.9L1671.7 795.7L1672.7 801.9L1673.7 800.7L1675 819.3L1676.2 849.1L1677.7 883.8L1679.2 911.1L1680.7 919.8L1682.2 926L1683.7 936L1685.1 945.9L1686.9 952.1L1690.6 952.1L1695.6 952.6L1699.3 952.6L1701.3 950.8" fill="none" stroke="#1212c4" stroke-width="2.2" stroke-linejoin="round"/>
<rect x="1426.8" y="722.5" width="302.3" height="248.8" fill="none" stroke="#000" stroke-width="2.3"/>
<path d="M1425.8 952.6h-5M1425.8 934.6h-3M1425.8 916.5h-5M1425.8 898.5h-3M1425.8 880.4h-5M1425.8 862.4h-3M1425.8 844.3h-5M1425.8 826.2h-3M1425.8 808.2h-5M1425.8 790.2h-3M1425.8 772.1h-5M1425.8 754.1h-3M1425.8 736h-5M1426.8 972.3v5M1464.6 972.3v3M1502.4 972.3v5M1540.2 972.3v3M1577.9 972.3v5M1615.7 972.3v3M1653.5 972.3v5M1691.3 972.3v3M1729.1 972.3v5" stroke="#000" stroke-width="1.8" fill="none"/>
<text x="1418.2" y="959.1" font-size="22" text-anchor="end" transform="translate(1418.2 0) scale(0.85 1) translate(-1418.2 0)">0</text>
<text x="1418.2" y="923" font-size="22" text-anchor="end" transform="translate(1418.2 0) scale(0.85 1) translate(-1418.2 0)">50</text>
<text x="1418.2" y="886.9" font-size="22" text-anchor="end" transform="translate(1418.2 0) scale(0.85 1) translate(-1418.2 0)">100</text>
<text x="1418.2" y="850.8" font-size="22" text-anchor="end" transform="translate(1418.2 0) scale(0.85 1) translate(-1418.2 0)">150</text>
<text x="1418.2" y="814.7" font-size="22" text-anchor="end" transform="translate(1418.2 0) scale(0.85 1) translate(-1418.2 0)">200</text>
<text x="1418.2" y="778.6" font-size="22" text-anchor="end" transform="translate(1418.2 0) scale(0.85 1) translate(-1418.2 0)">250</text>
<text x="1418.2" y="742.5" font-size="22" text-anchor="end" transform="translate(1418.2 0) scale(0.85 1) translate(-1418.2 0)">300</text>
<text x="1427.1" y="995.6" font-size="21.5" text-anchor="middle" transform="translate(1427.1 0) scale(0.87 1) translate(-1427.1 0)">0.0</text>
<text x="1502.7" y="995.6" font-size="21.5" text-anchor="middle" transform="translate(1502.7 0) scale(0.87 1) translate(-1502.7 0)">0.5</text>
<text x="1578.2" y="995.6" font-size="21.5" text-anchor="middle" transform="translate(1578.2 0) scale(0.87 1) translate(-1578.2 0)">1.0</text>
<text x="1653.8" y="995.6" font-size="21.5" text-anchor="middle" transform="translate(1653.8 0) scale(0.87 1) translate(-1653.8 0)">1.5</text>
<text x="1729.4" y="995.6" font-size="21.5" text-anchor="middle" transform="translate(1729.4 0) scale(0.87 1) translate(-1729.4 0)">2.0</text>
<text x="1511.9" y="1022.4" font-size="24.5" textLength="146.5" lengthAdjust="spacingAndGlyphs">Distance / μm</text>
<text x="-67.5" y="0" font-size="25.3" textLength="135" lengthAdjust="spacingAndGlyphs" transform="translate(1378.2 849.9) rotate(-90)">FL Intensity</text>
<path d="M1427.8 738.7h58" stroke="#3edb3e" stroke-width="2.5" fill="none"/>
<path d="M1427.8 773.5h58" stroke="#1212c4" stroke-width="2.5" fill="none"/>
<text x="1491.8" y="747.5" font-size="24.5" textLength="95" lengthAdjust="spacingAndGlyphs">C-dots-1</text>
<text x="1491.8" y="782.3" font-size="24.5" textLength="193" lengthAdjust="spacingAndGlyphs">AIE-LD-B01 Blue</text>
<text x="1325.2" y="763.6" font-size="65.5" fill="#000">e<tspan font-size="30.5" dx="0.5" dy="-0.5">3</tspan></text>
</g>
</svg>
</body></html>
